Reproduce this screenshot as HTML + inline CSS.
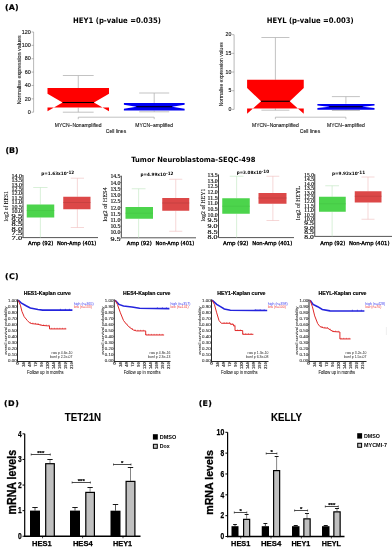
<!DOCTYPE html>
<html><head><meta charset="utf-8"><title>Figure</title>
<style>html,body{margin:0;padding:0;background:#fff;width:392px;height:550px;overflow:hidden}svg{display:block}</style>
</head><body>
<svg width="392" height="550" viewBox="0 0 392 550">
<text x="5.1" y="9.5" font-size="7.9" font-weight="bold" font-family="'DejaVu Sans', Verdana, sans-serif" text-anchor="start" fill="#000" stroke="#000" stroke-width="0.2" textLength="13.6" lengthAdjust="spacing">(A)</text>
<line x1="33.6" y1="32" x2="33.6" y2="112.2" stroke="#888" stroke-width="0.6"/>
<line x1="31.6" y1="112.2" x2="33.6" y2="112.2" stroke="#888" stroke-width="0.6"/>
<text x="30.8" y="113.9" font-size="5.4" font-family="'Liberation Sans', Arial, sans-serif" text-anchor="end" fill="#222" stroke="#222" stroke-width="0.15">0</text>
<line x1="31.6" y1="98.83" x2="33.6" y2="98.83" stroke="#888" stroke-width="0.6"/>
<text x="30.8" y="100.53" font-size="5.4" font-family="'Liberation Sans', Arial, sans-serif" text-anchor="end" fill="#222" stroke="#222" stroke-width="0.15">20</text>
<line x1="31.6" y1="85.46" x2="33.6" y2="85.46" stroke="#888" stroke-width="0.6"/>
<text x="30.8" y="87.16" font-size="5.4" font-family="'Liberation Sans', Arial, sans-serif" text-anchor="end" fill="#222" stroke="#222" stroke-width="0.15">40</text>
<line x1="31.6" y1="72.09" x2="33.6" y2="72.09" stroke="#888" stroke-width="0.6"/>
<text x="30.8" y="73.79" font-size="5.4" font-family="'Liberation Sans', Arial, sans-serif" text-anchor="end" fill="#222" stroke="#222" stroke-width="0.15">60</text>
<line x1="31.6" y1="58.72" x2="33.6" y2="58.72" stroke="#888" stroke-width="0.6"/>
<text x="30.8" y="60.42" font-size="5.4" font-family="'Liberation Sans', Arial, sans-serif" text-anchor="end" fill="#222" stroke="#222" stroke-width="0.15">80</text>
<line x1="31.6" y1="45.35" x2="33.6" y2="45.35" stroke="#888" stroke-width="0.6"/>
<text x="30.8" y="47.05" font-size="5.4" font-family="'Liberation Sans', Arial, sans-serif" text-anchor="end" fill="#222" stroke="#222" stroke-width="0.15">100</text>
<line x1="31.6" y1="31.98" x2="33.6" y2="31.98" stroke="#888" stroke-width="0.6"/>
<text x="30.8" y="33.68" font-size="5.4" font-family="'Liberation Sans', Arial, sans-serif" text-anchor="end" fill="#222" stroke="#222" stroke-width="0.15">120</text>
<text x="117" y="22.8" font-size="7.6" font-weight="bold" font-family="'DejaVu Sans', Verdana, sans-serif" text-anchor="middle" fill="#000" textLength="87.8" lengthAdjust="spacingAndGlyphs">HEY1 (p-value =0.035)</text>
<text x="21.2" y="69.8" font-size="5.4" font-family="'Liberation Sans', Arial, sans-serif" text-anchor="middle" fill="#222" transform="rotate(-90 21.2 69.8)" stroke="#222" stroke-width="0.1" textLength="69" lengthAdjust="spacingAndGlyphs">Normalise expression values</text>
<line x1="78.25" y1="75.5" x2="78.25" y2="88" stroke="#b4b4b4" stroke-width="0.8"/>
<line x1="78.25" y1="107.6" x2="78.25" y2="112.2" stroke="#b4b4b4" stroke-width="0.8"/>
<line x1="62.85" y1="75.5" x2="93.65" y2="75.5" stroke="#b4b4b4" stroke-width="0.8"/>
<line x1="62.85" y1="112.2" x2="93.65" y2="112.2" stroke="#b4b4b4" stroke-width="0.8"/>
<polygon points="47.5,107.6 47.5,111.3 62.55,102.5 47.5,93.8 47.5,88 109,88 109,93.8 93.95,102.5 109,111.3 109,107.6" fill="#ff0000" stroke="none" stroke-width="1"/>
<line x1="62.55" y1="102.5" x2="93.95" y2="102.5" stroke="#000" stroke-width="1.1"/>
<line x1="154.2" y1="93" x2="154.2" y2="103.2" stroke="#b4b4b4" stroke-width="0.8"/>
<line x1="154.2" y1="110.7" x2="154.2" y2="111.8" stroke="#b4b4b4" stroke-width="0.8"/>
<line x1="139.2" y1="93" x2="169.2" y2="93" stroke="#b4b4b4" stroke-width="0.8"/>
<line x1="139.2" y1="111.8" x2="169.2" y2="111.8" stroke="#b4b4b4" stroke-width="0.8"/>
<polygon points="123.9,110.6 123.9,108.7 136.4,106.8 123.9,104.8 123.9,103.1 184.6,103.1 184.6,104.8 172.1,106.8 184.6,108.7 184.6,110.6" fill="#0000f4" stroke="none" stroke-width="1"/>
<line x1="136.4" y1="106.8" x2="172.1" y2="106.8" stroke="#000" stroke-width="1.1"/>
<line x1="78.25" y1="117.2" x2="154.2" y2="117.2" stroke="#999" stroke-width="0.6"/>
<line x1="78.25" y1="117.2" x2="78.25" y2="119.2" stroke="#999" stroke-width="0.6"/>
<line x1="154.2" y1="117.2" x2="154.2" y2="119.2" stroke="#999" stroke-width="0.6"/>
<text x="78.25" y="127.2" font-size="5" font-family="'Liberation Sans', Arial, sans-serif" text-anchor="middle" fill="#111" stroke="#111" stroke-width="0.1">MYCN−Nonamplified</text>
<text x="154.2" y="127.2" font-size="5" font-family="'Liberation Sans', Arial, sans-serif" text-anchor="middle" fill="#111" stroke="#111" stroke-width="0.1">MYCN−amplified</text>
<text x="116" y="132.6" font-size="5" font-family="'Liberation Sans', Arial, sans-serif" text-anchor="middle" fill="#111" stroke="#111" stroke-width="0.1">Cell lines</text>
<line x1="234.1" y1="34.7" x2="234.1" y2="109.4" stroke="#888" stroke-width="0.6"/>
<line x1="232.1" y1="109.4" x2="234.1" y2="109.4" stroke="#888" stroke-width="0.6"/>
<text x="231.3" y="111.1" font-size="5.2" font-family="'Liberation Sans', Arial, sans-serif" text-anchor="end" fill="#222" stroke="#222" stroke-width="0.15">0</text>
<line x1="232.1" y1="90.72" x2="234.1" y2="90.72" stroke="#888" stroke-width="0.6"/>
<text x="231.3" y="92.42" font-size="5.2" font-family="'Liberation Sans', Arial, sans-serif" text-anchor="end" fill="#222" stroke="#222" stroke-width="0.15">5</text>
<line x1="232.1" y1="72.04" x2="234.1" y2="72.04" stroke="#888" stroke-width="0.6"/>
<text x="231.3" y="73.74" font-size="5.2" font-family="'Liberation Sans', Arial, sans-serif" text-anchor="end" fill="#222" stroke="#222" stroke-width="0.15">10</text>
<line x1="232.1" y1="53.36" x2="234.1" y2="53.36" stroke="#888" stroke-width="0.6"/>
<text x="231.3" y="55.06" font-size="5.2" font-family="'Liberation Sans', Arial, sans-serif" text-anchor="end" fill="#222" stroke="#222" stroke-width="0.15">15</text>
<line x1="232.1" y1="34.68" x2="234.1" y2="34.68" stroke="#888" stroke-width="0.6"/>
<text x="231.3" y="36.38" font-size="5.2" font-family="'Liberation Sans', Arial, sans-serif" text-anchor="end" fill="#222" stroke="#222" stroke-width="0.15">20</text>
<text x="310.2" y="22.8" font-size="7.6" font-weight="bold" font-family="'DejaVu Sans', Verdana, sans-serif" text-anchor="middle" fill="#000" textLength="86.8" lengthAdjust="spacingAndGlyphs">HEYL (p-value =0.003)</text>
<text x="223" y="74.3" font-size="5.1" font-family="'Liberation Sans', Arial, sans-serif" text-anchor="middle" fill="#222" transform="rotate(-90 223 74.3)" stroke="#222" stroke-width="0.1" textLength="64" lengthAdjust="spacingAndGlyphs">Normalise expression values</text>
<line x1="275.4" y1="37.5" x2="275.4" y2="79.8" stroke="#b4b4b4" stroke-width="0.8"/>
<line x1="275.4" y1="108.4" x2="275.4" y2="110.2" stroke="#b4b4b4" stroke-width="0.8"/>
<line x1="261.4" y1="37.5" x2="289.4" y2="37.5" stroke="#b4b4b4" stroke-width="0.8"/>
<line x1="261.4" y1="110.2" x2="289.4" y2="110.2" stroke="#b4b4b4" stroke-width="0.8"/>
<polygon points="247.1,108.4 247.1,113.75 261.07,101.25 247.1,87.9 247.1,79.8 303.75,79.8 303.75,87.9 289.78,101.25 303.75,113.75 303.75,108.4" fill="#ff0000" stroke="none" stroke-width="1"/>
<line x1="261.07" y1="101.25" x2="289.78" y2="101.25" stroke="#000" stroke-width="1.1"/>
<line x1="345.9" y1="96.6" x2="345.9" y2="103.75" stroke="#b4b4b4" stroke-width="0.8"/>
<line x1="345.9" y1="109.6" x2="345.9" y2="110.5" stroke="#b4b4b4" stroke-width="0.8"/>
<line x1="331.9" y1="96.6" x2="359.9" y2="96.6" stroke="#b4b4b4" stroke-width="0.8"/>
<line x1="331.9" y1="110.5" x2="359.9" y2="110.5" stroke="#b4b4b4" stroke-width="0.8"/>
<polygon points="317.4,109.8 317.4,108.1 329.35,106.8 317.4,105.4 317.4,103.9 374.5,103.9 374.5,105.4 362.55,106.8 374.5,108.1 374.5,109.8" fill="#0000f4" stroke="none" stroke-width="1"/>
<line x1="329.35" y1="106.8" x2="362.55" y2="106.8" stroke="#000" stroke-width="1.1"/>
<line x1="275.4" y1="117.2" x2="345.9" y2="117.2" stroke="#999" stroke-width="0.6"/>
<line x1="275.4" y1="117.2" x2="275.4" y2="119.2" stroke="#999" stroke-width="0.6"/>
<line x1="345.9" y1="117.2" x2="345.9" y2="119.2" stroke="#999" stroke-width="0.6"/>
<text x="275.4" y="127.2" font-size="5" font-family="'Liberation Sans', Arial, sans-serif" text-anchor="middle" fill="#111" stroke="#111" stroke-width="0.1">MYCN−Nonamplified</text>
<text x="345.9" y="127.2" font-size="5" font-family="'Liberation Sans', Arial, sans-serif" text-anchor="middle" fill="#111" stroke="#111" stroke-width="0.1">MYCN−amplified</text>
<text x="310" y="132.6" font-size="5" font-family="'Liberation Sans', Arial, sans-serif" text-anchor="middle" fill="#111" stroke="#111" stroke-width="0.1">Cell lines</text>
<text x="5.4" y="152.6" font-size="7.9" font-weight="bold" font-family="'DejaVu Sans', Verdana, sans-serif" text-anchor="start" fill="#000" stroke="#000" stroke-width="0.2" textLength="13.3" lengthAdjust="spacing">(B)</text>
<text x="131.2" y="162.1" font-size="7.1" font-weight="bold" font-family="'DejaVu Sans', Verdana, sans-serif" text-anchor="start" fill="#000" textLength="124.2" lengthAdjust="spacingAndGlyphs">Tumor Neuroblastoma-SEQC-498</text>
<text x="41.25" y="175" font-size="4.5" font-weight="bold" font-family="'DejaVu Sans', Verdana, sans-serif" text-anchor="start" fill="#000" textLength="33" lengthAdjust="spacingAndGlyphs">p=1.63x10<tspan font-size="4.5" dy="-1.3">-12</tspan></text>
<text x="22.1" y="177.8" font-size="6.4" font-family="'Liberation Serif', 'Times New Roman', serif" text-anchor="end" fill="#111" stroke="#111" stroke-width="0.18" textLength="10.5" lengthAdjust="spacingAndGlyphs">14.0</text>
<line x1="21.8" y1="175.6" x2="23" y2="175.6" stroke="#333" stroke-width="0.5"/>
<text x="22.1" y="182.22" font-size="6.4" font-family="'Liberation Serif', 'Times New Roman', serif" text-anchor="end" fill="#111" stroke="#111" stroke-width="0.18" textLength="10.5" lengthAdjust="spacingAndGlyphs">13.5</text>
<line x1="21.8" y1="180.02" x2="23" y2="180.02" stroke="#333" stroke-width="0.5"/>
<text x="22.1" y="186.64" font-size="6.4" font-family="'Liberation Serif', 'Times New Roman', serif" text-anchor="end" fill="#111" stroke="#111" stroke-width="0.18" textLength="10.5" lengthAdjust="spacingAndGlyphs">13.0</text>
<line x1="21.8" y1="184.44" x2="23" y2="184.44" stroke="#333" stroke-width="0.5"/>
<text x="22.1" y="191.06" font-size="6.4" font-family="'Liberation Serif', 'Times New Roman', serif" text-anchor="end" fill="#111" stroke="#111" stroke-width="0.18" textLength="10.5" lengthAdjust="spacingAndGlyphs">12.5</text>
<line x1="21.8" y1="188.86" x2="23" y2="188.86" stroke="#333" stroke-width="0.5"/>
<text x="22.1" y="195.49" font-size="6.4" font-family="'Liberation Serif', 'Times New Roman', serif" text-anchor="end" fill="#111" stroke="#111" stroke-width="0.18" textLength="10.5" lengthAdjust="spacingAndGlyphs">12.0</text>
<line x1="21.8" y1="193.29" x2="23" y2="193.29" stroke="#333" stroke-width="0.5"/>
<text x="22.1" y="199.91" font-size="6.4" font-family="'Liberation Serif', 'Times New Roman', serif" text-anchor="end" fill="#111" stroke="#111" stroke-width="0.18" textLength="10.5" lengthAdjust="spacingAndGlyphs">11.5</text>
<line x1="21.8" y1="197.71" x2="23" y2="197.71" stroke="#333" stroke-width="0.5"/>
<text x="22.1" y="204.33" font-size="6.4" font-family="'Liberation Serif', 'Times New Roman', serif" text-anchor="end" fill="#111" stroke="#111" stroke-width="0.18" textLength="10.5" lengthAdjust="spacingAndGlyphs">11.0</text>
<line x1="21.8" y1="202.13" x2="23" y2="202.13" stroke="#333" stroke-width="0.5"/>
<text x="22.1" y="208.75" font-size="6.4" font-family="'Liberation Serif', 'Times New Roman', serif" text-anchor="end" fill="#111" stroke="#111" stroke-width="0.18" textLength="10.5" lengthAdjust="spacingAndGlyphs">10.5</text>
<line x1="21.8" y1="206.55" x2="23" y2="206.55" stroke="#333" stroke-width="0.5"/>
<text x="22.1" y="213.17" font-size="6.4" font-family="'Liberation Serif', 'Times New Roman', serif" text-anchor="end" fill="#111" stroke="#111" stroke-width="0.18" textLength="10.5" lengthAdjust="spacingAndGlyphs">10.0</text>
<line x1="21.8" y1="210.97" x2="23" y2="210.97" stroke="#333" stroke-width="0.5"/>
<text x="22.1" y="217.59" font-size="6.4" font-family="'Liberation Serif', 'Times New Roman', serif" text-anchor="end" fill="#111" stroke="#111" stroke-width="0.18" textLength="10.5" lengthAdjust="spacingAndGlyphs">9.5</text>
<line x1="21.8" y1="215.39" x2="23" y2="215.39" stroke="#333" stroke-width="0.5"/>
<text x="22.1" y="222.01" font-size="6.4" font-family="'Liberation Serif', 'Times New Roman', serif" text-anchor="end" fill="#111" stroke="#111" stroke-width="0.18" textLength="10.5" lengthAdjust="spacingAndGlyphs">9.0</text>
<line x1="21.8" y1="219.81" x2="23" y2="219.81" stroke="#333" stroke-width="0.5"/>
<text x="22.1" y="226.44" font-size="6.4" font-family="'Liberation Serif', 'Times New Roman', serif" text-anchor="end" fill="#111" stroke="#111" stroke-width="0.18" textLength="10.5" lengthAdjust="spacingAndGlyphs">8.5</text>
<line x1="21.8" y1="224.24" x2="23" y2="224.24" stroke="#333" stroke-width="0.5"/>
<text x="22.1" y="230.86" font-size="6.4" font-family="'Liberation Serif', 'Times New Roman', serif" text-anchor="end" fill="#111" stroke="#111" stroke-width="0.18" textLength="10.5" lengthAdjust="spacingAndGlyphs">8.0</text>
<line x1="21.8" y1="228.66" x2="23" y2="228.66" stroke="#333" stroke-width="0.5"/>
<text x="22.1" y="235.28" font-size="6.4" font-family="'Liberation Serif', 'Times New Roman', serif" text-anchor="end" fill="#111" stroke="#111" stroke-width="0.18" textLength="10.5" lengthAdjust="spacingAndGlyphs">7.5</text>
<line x1="21.8" y1="233.08" x2="23" y2="233.08" stroke="#333" stroke-width="0.5"/>
<text x="22.1" y="239.7" font-size="6.4" font-family="'Liberation Serif', 'Times New Roman', serif" text-anchor="end" fill="#111" stroke="#111" stroke-width="0.18" textLength="10.5" lengthAdjust="spacingAndGlyphs">7.0</text>
<line x1="21.8" y1="237.5" x2="23" y2="237.5" stroke="#333" stroke-width="0.5"/>
<line x1="23" y1="175.1" x2="23" y2="237.6" stroke="#444" stroke-width="1"/>
<line x1="23" y1="237.6" x2="98" y2="237.6" stroke="#555" stroke-width="1"/>
<text x="8.2" y="206.3" font-size="6" font-family="'Liberation Serif', 'Times New Roman', serif" text-anchor="middle" fill="#111" transform="rotate(-90 8.2 206.3)" stroke="#111" stroke-width="0.1" textLength="30" lengthAdjust="spacingAndGlyphs">log2 of HES1</text>
<line x1="40.38" y1="187.5" x2="40.38" y2="204.5" stroke="#c0e6c0" stroke-width="0.6"/>
<line x1="40.38" y1="217.5" x2="40.38" y2="237.6" stroke="#c0e6c0" stroke-width="0.6"/>
<line x1="33.25" y1="187.5" x2="47.5" y2="187.5" stroke="#c0e6c0" stroke-width="0.6"/>
<rect x="26.75" y="204.5" width="27.5" height="13" fill="#4cd44c" stroke="none" stroke-width="1"/>
<line x1="26.75" y1="210.5" x2="54.25" y2="210.5" stroke="#44c444" stroke-width="0.6"/>
<line x1="77.38" y1="178.2" x2="77.38" y2="196.75" stroke="#f0bcbc" stroke-width="0.6"/>
<line x1="77.38" y1="209.25" x2="77.38" y2="227.5" stroke="#f0bcbc" stroke-width="0.6"/>
<line x1="70.75" y1="178.2" x2="84" y2="178.2" stroke="#f0bcbc" stroke-width="0.6"/>
<line x1="70.75" y1="227.5" x2="84" y2="227.5" stroke="#f0bcbc" stroke-width="0.6"/>
<rect x="63.25" y="196.75" width="27.25" height="12.5" fill="#dc4848" stroke="none" stroke-width="1"/>
<line x1="63.25" y1="202.5" x2="90.5" y2="202.5" stroke="#bb3c3c" stroke-width="0.6"/>
<text x="28" y="244.7" font-size="5.4" font-family="'DejaVu Sans', Verdana, sans-serif" text-anchor="start" fill="#000" stroke="#000" stroke-width="0.32" textLength="25.25" lengthAdjust="spacingAndGlyphs">Amp (92)</text>
<text x="57" y="244.7" font-size="5.4" font-family="'DejaVu Sans', Verdana, sans-serif" text-anchor="start" fill="#000" stroke="#000" stroke-width="0.32" textLength="39.25" lengthAdjust="spacingAndGlyphs">Non-Amp (401)</text>
<text x="140.5" y="176.3" font-size="4.5" font-weight="bold" font-family="'DejaVu Sans', Verdana, sans-serif" text-anchor="start" fill="#000" textLength="33" lengthAdjust="spacingAndGlyphs">p=4.99x10<tspan font-size="4.5" dy="-1.3">-12</tspan></text>
<text x="120.4" y="178.45" font-size="6.6" font-family="'Liberation Serif', 'Times New Roman', serif" text-anchor="end" fill="#111" stroke="#111" stroke-width="0.18" textLength="10" lengthAdjust="spacingAndGlyphs">14.5</text>
<line x1="120.1" y1="176.25" x2="121.3" y2="176.25" stroke="#333" stroke-width="0.5"/>
<text x="120.4" y="184.67" font-size="6.6" font-family="'Liberation Serif', 'Times New Roman', serif" text-anchor="end" fill="#111" stroke="#111" stroke-width="0.18" textLength="10" lengthAdjust="spacingAndGlyphs">14.0</text>
<line x1="120.1" y1="182.47" x2="121.3" y2="182.47" stroke="#333" stroke-width="0.5"/>
<text x="120.4" y="190.9" font-size="6.6" font-family="'Liberation Serif', 'Times New Roman', serif" text-anchor="end" fill="#111" stroke="#111" stroke-width="0.18" textLength="10" lengthAdjust="spacingAndGlyphs">13.5</text>
<line x1="120.1" y1="188.7" x2="121.3" y2="188.7" stroke="#333" stroke-width="0.5"/>
<text x="120.4" y="197.12" font-size="6.6" font-family="'Liberation Serif', 'Times New Roman', serif" text-anchor="end" fill="#111" stroke="#111" stroke-width="0.18" textLength="10" lengthAdjust="spacingAndGlyphs">13.0</text>
<line x1="120.1" y1="194.93" x2="121.3" y2="194.93" stroke="#333" stroke-width="0.5"/>
<text x="120.4" y="203.35" font-size="6.6" font-family="'Liberation Serif', 'Times New Roman', serif" text-anchor="end" fill="#111" stroke="#111" stroke-width="0.18" textLength="10" lengthAdjust="spacingAndGlyphs">12.5</text>
<line x1="120.1" y1="201.15" x2="121.3" y2="201.15" stroke="#333" stroke-width="0.5"/>
<text x="120.4" y="209.57" font-size="6.6" font-family="'Liberation Serif', 'Times New Roman', serif" text-anchor="end" fill="#111" stroke="#111" stroke-width="0.18" textLength="10" lengthAdjust="spacingAndGlyphs">12.0</text>
<line x1="120.1" y1="207.38" x2="121.3" y2="207.38" stroke="#333" stroke-width="0.5"/>
<text x="120.4" y="215.8" font-size="6.6" font-family="'Liberation Serif', 'Times New Roman', serif" text-anchor="end" fill="#111" stroke="#111" stroke-width="0.18" textLength="10" lengthAdjust="spacingAndGlyphs">11.5</text>
<line x1="120.1" y1="213.6" x2="121.3" y2="213.6" stroke="#333" stroke-width="0.5"/>
<text x="120.4" y="222.02" font-size="6.6" font-family="'Liberation Serif', 'Times New Roman', serif" text-anchor="end" fill="#111" stroke="#111" stroke-width="0.18" textLength="10" lengthAdjust="spacingAndGlyphs">11.0</text>
<line x1="120.1" y1="219.82" x2="121.3" y2="219.82" stroke="#333" stroke-width="0.5"/>
<text x="120.4" y="228.25" font-size="6.6" font-family="'Liberation Serif', 'Times New Roman', serif" text-anchor="end" fill="#111" stroke="#111" stroke-width="0.18" textLength="10" lengthAdjust="spacingAndGlyphs">10.5</text>
<line x1="120.1" y1="226.05" x2="121.3" y2="226.05" stroke="#333" stroke-width="0.5"/>
<text x="120.4" y="234.47" font-size="6.6" font-family="'Liberation Serif', 'Times New Roman', serif" text-anchor="end" fill="#111" stroke="#111" stroke-width="0.18" textLength="10" lengthAdjust="spacingAndGlyphs">10.0</text>
<line x1="120.1" y1="232.28" x2="121.3" y2="232.28" stroke="#333" stroke-width="0.5"/>
<text x="120.4" y="240.7" font-size="6.6" font-family="'Liberation Serif', 'Times New Roman', serif" text-anchor="end" fill="#111" stroke="#111" stroke-width="0.18" textLength="10" lengthAdjust="spacingAndGlyphs">9.5</text>
<line x1="120.1" y1="238.5" x2="121.3" y2="238.5" stroke="#333" stroke-width="0.5"/>
<line x1="121.3" y1="175.75" x2="121.3" y2="237.8" stroke="#444" stroke-width="1"/>
<line x1="121.3" y1="237.8" x2="196" y2="237.8" stroke="#555" stroke-width="1"/>
<text x="106.8" y="204.4" font-size="6" font-family="'Liberation Serif', 'Times New Roman', serif" text-anchor="middle" fill="#111" transform="rotate(-90 106.8 204.4)" stroke="#111" stroke-width="0.1" textLength="34" lengthAdjust="spacingAndGlyphs">log2 of HES4</text>
<line x1="138.62" y1="188.75" x2="138.62" y2="207" stroke="#c0e6c0" stroke-width="0.6"/>
<line x1="138.62" y1="218.75" x2="138.62" y2="237.8" stroke="#c0e6c0" stroke-width="0.6"/>
<line x1="131.75" y1="188.75" x2="145.5" y2="188.75" stroke="#c0e6c0" stroke-width="0.6"/>
<rect x="125.5" y="207" width="27.5" height="11.75" fill="#4cd44c" stroke="none" stroke-width="1"/>
<line x1="125.5" y1="213.25" x2="153" y2="213.25" stroke="#44c444" stroke-width="0.6"/>
<line x1="175.75" y1="179.25" x2="175.75" y2="198" stroke="#f0bcbc" stroke-width="0.6"/>
<line x1="175.75" y1="210.75" x2="175.75" y2="231.25" stroke="#f0bcbc" stroke-width="0.6"/>
<line x1="169.25" y1="179.25" x2="182.25" y2="179.25" stroke="#f0bcbc" stroke-width="0.6"/>
<line x1="169.25" y1="231.25" x2="182.25" y2="231.25" stroke="#f0bcbc" stroke-width="0.6"/>
<rect x="162.25" y="198" width="27" height="12.75" fill="#dc4848" stroke="none" stroke-width="1"/>
<line x1="162.25" y1="203" x2="189.25" y2="203" stroke="#bb3c3c" stroke-width="0.6"/>
<text x="126.75" y="244.7" font-size="5.4" font-family="'DejaVu Sans', Verdana, sans-serif" text-anchor="start" fill="#000" stroke="#000" stroke-width="0.32" textLength="25" lengthAdjust="spacingAndGlyphs">Amp (92)</text>
<text x="155.5" y="244.7" font-size="5.4" font-family="'DejaVu Sans', Verdana, sans-serif" text-anchor="start" fill="#000" stroke="#000" stroke-width="0.32" textLength="38.75" lengthAdjust="spacingAndGlyphs">Non-Amp (401)</text>
<text x="236.75" y="174.3" font-size="4.5" font-weight="bold" font-family="'DejaVu Sans', Verdana, sans-serif" text-anchor="start" fill="#000" textLength="32.25" lengthAdjust="spacingAndGlyphs">p=3.08x10<tspan font-size="4.5" dy="-1.3">-10</tspan></text>
<text x="217.6" y="177.2" font-size="6.4" font-family="'Liberation Serif', 'Times New Roman', serif" text-anchor="end" fill="#111" stroke="#111" stroke-width="0.18" textLength="10" lengthAdjust="spacingAndGlyphs">13.5</text>
<line x1="217.3" y1="175" x2="218.5" y2="175" stroke="#333" stroke-width="0.5"/>
<text x="217.6" y="182.84" font-size="6.4" font-family="'Liberation Serif', 'Times New Roman', serif" text-anchor="end" fill="#111" stroke="#111" stroke-width="0.18" textLength="10" lengthAdjust="spacingAndGlyphs">13.0</text>
<line x1="217.3" y1="180.64" x2="218.5" y2="180.64" stroke="#333" stroke-width="0.5"/>
<text x="217.6" y="188.47" font-size="6.4" font-family="'Liberation Serif', 'Times New Roman', serif" text-anchor="end" fill="#111" stroke="#111" stroke-width="0.18" textLength="10" lengthAdjust="spacingAndGlyphs">12.5</text>
<line x1="217.3" y1="186.27" x2="218.5" y2="186.27" stroke="#333" stroke-width="0.5"/>
<text x="217.6" y="194.11" font-size="6.4" font-family="'Liberation Serif', 'Times New Roman', serif" text-anchor="end" fill="#111" stroke="#111" stroke-width="0.18" textLength="10" lengthAdjust="spacingAndGlyphs">12.0</text>
<line x1="217.3" y1="191.91" x2="218.5" y2="191.91" stroke="#333" stroke-width="0.5"/>
<text x="217.6" y="199.75" font-size="6.4" font-family="'Liberation Serif', 'Times New Roman', serif" text-anchor="end" fill="#111" stroke="#111" stroke-width="0.18" textLength="10" lengthAdjust="spacingAndGlyphs">11.5</text>
<line x1="217.3" y1="197.55" x2="218.5" y2="197.55" stroke="#333" stroke-width="0.5"/>
<text x="217.6" y="205.38" font-size="6.4" font-family="'Liberation Serif', 'Times New Roman', serif" text-anchor="end" fill="#111" stroke="#111" stroke-width="0.18" textLength="10" lengthAdjust="spacingAndGlyphs">11.0</text>
<line x1="217.3" y1="203.18" x2="218.5" y2="203.18" stroke="#333" stroke-width="0.5"/>
<text x="217.6" y="211.02" font-size="6.4" font-family="'Liberation Serif', 'Times New Roman', serif" text-anchor="end" fill="#111" stroke="#111" stroke-width="0.18" textLength="10" lengthAdjust="spacingAndGlyphs">10.5</text>
<line x1="217.3" y1="208.82" x2="218.5" y2="208.82" stroke="#333" stroke-width="0.5"/>
<text x="217.6" y="216.65" font-size="6.4" font-family="'Liberation Serif', 'Times New Roman', serif" text-anchor="end" fill="#111" stroke="#111" stroke-width="0.18" textLength="10" lengthAdjust="spacingAndGlyphs">10.0</text>
<line x1="217.3" y1="214.45" x2="218.5" y2="214.45" stroke="#333" stroke-width="0.5"/>
<text x="217.6" y="222.29" font-size="6.4" font-family="'Liberation Serif', 'Times New Roman', serif" text-anchor="end" fill="#111" stroke="#111" stroke-width="0.18" textLength="10" lengthAdjust="spacingAndGlyphs">9.5</text>
<line x1="217.3" y1="220.09" x2="218.5" y2="220.09" stroke="#333" stroke-width="0.5"/>
<text x="217.6" y="227.93" font-size="6.4" font-family="'Liberation Serif', 'Times New Roman', serif" text-anchor="end" fill="#111" stroke="#111" stroke-width="0.18" textLength="10" lengthAdjust="spacingAndGlyphs">9.0</text>
<line x1="217.3" y1="225.73" x2="218.5" y2="225.73" stroke="#333" stroke-width="0.5"/>
<text x="217.6" y="233.56" font-size="6.4" font-family="'Liberation Serif', 'Times New Roman', serif" text-anchor="end" fill="#111" stroke="#111" stroke-width="0.18" textLength="10" lengthAdjust="spacingAndGlyphs">8.5</text>
<line x1="217.3" y1="231.36" x2="218.5" y2="231.36" stroke="#333" stroke-width="0.5"/>
<text x="217.6" y="239.2" font-size="6.4" font-family="'Liberation Serif', 'Times New Roman', serif" text-anchor="end" fill="#111" stroke="#111" stroke-width="0.18" textLength="10" lengthAdjust="spacingAndGlyphs">8.0</text>
<line x1="217.3" y1="237" x2="218.5" y2="237" stroke="#333" stroke-width="0.5"/>
<line x1="218.5" y1="174.5" x2="218.5" y2="237.6" stroke="#444" stroke-width="1"/>
<line x1="218.5" y1="237.6" x2="294" y2="237.6" stroke="#555" stroke-width="1"/>
<text x="204.8" y="205" font-size="6" font-family="'Liberation Serif', 'Times New Roman', serif" text-anchor="middle" fill="#111" transform="rotate(-90 204.8 205)" stroke="#111" stroke-width="0.1" textLength="32.5" lengthAdjust="spacingAndGlyphs">log2 of HEY1</text>
<line x1="236.62" y1="176.25" x2="236.62" y2="198.25" stroke="#c0e6c0" stroke-width="0.6"/>
<line x1="236.62" y1="213.75" x2="236.62" y2="237.6" stroke="#c0e6c0" stroke-width="0.6"/>
<line x1="229.75" y1="176.25" x2="243.5" y2="176.25" stroke="#c0e6c0" stroke-width="0.6"/>
<rect x="222.25" y="198.25" width="27.5" height="15.5" fill="#4cd44c" stroke="none" stroke-width="1"/>
<line x1="222.25" y1="206.25" x2="249.75" y2="206.25" stroke="#44c444" stroke-width="0.6"/>
<line x1="272.88" y1="176.25" x2="272.88" y2="193" stroke="#f0bcbc" stroke-width="0.6"/>
<line x1="272.88" y1="203.75" x2="272.88" y2="220.5" stroke="#f0bcbc" stroke-width="0.6"/>
<line x1="266.5" y1="176.25" x2="279.25" y2="176.25" stroke="#f0bcbc" stroke-width="0.6"/>
<line x1="266.5" y1="220.5" x2="279.25" y2="220.5" stroke="#f0bcbc" stroke-width="0.6"/>
<rect x="258.5" y="193" width="28" height="10.75" fill="#dc4848" stroke="none" stroke-width="1"/>
<line x1="258.5" y1="198" x2="286.5" y2="198" stroke="#bb3c3c" stroke-width="0.6"/>
<text x="223" y="244.7" font-size="5.4" font-family="'DejaVu Sans', Verdana, sans-serif" text-anchor="start" fill="#000" stroke="#000" stroke-width="0.32" textLength="25.5" lengthAdjust="spacingAndGlyphs">Amp (92)</text>
<text x="252.25" y="244.7" font-size="5.4" font-family="'DejaVu Sans', Verdana, sans-serif" text-anchor="start" fill="#000" stroke="#000" stroke-width="0.32" textLength="40" lengthAdjust="spacingAndGlyphs">Non-Amp (401)</text>
<text x="332" y="174.8" font-size="4.5" font-weight="bold" font-family="'DejaVu Sans', Verdana, sans-serif" text-anchor="start" fill="#000" textLength="33.25" lengthAdjust="spacingAndGlyphs">p=9.92x10<tspan font-size="4.5" dy="-1.3">-11</tspan></text>
<text x="313.85" y="177" font-size="6" font-family="'Liberation Serif', 'Times New Roman', serif" text-anchor="end" fill="#111" stroke="#111" stroke-width="0.18" textLength="9.5" lengthAdjust="spacingAndGlyphs">15.0</text>
<line x1="313.55" y1="174.8" x2="314.75" y2="174.8" stroke="#333" stroke-width="0.5"/>
<text x="313.85" y="181.4" font-size="6" font-family="'Liberation Serif', 'Times New Roman', serif" text-anchor="end" fill="#111" stroke="#111" stroke-width="0.18" textLength="9.5" lengthAdjust="spacingAndGlyphs">14.5</text>
<line x1="313.55" y1="179.2" x2="314.75" y2="179.2" stroke="#333" stroke-width="0.5"/>
<text x="313.85" y="185.8" font-size="6" font-family="'Liberation Serif', 'Times New Roman', serif" text-anchor="end" fill="#111" stroke="#111" stroke-width="0.18" textLength="9.5" lengthAdjust="spacingAndGlyphs">14.0</text>
<line x1="313.55" y1="183.6" x2="314.75" y2="183.6" stroke="#333" stroke-width="0.5"/>
<text x="313.85" y="190.2" font-size="6" font-family="'Liberation Serif', 'Times New Roman', serif" text-anchor="end" fill="#111" stroke="#111" stroke-width="0.18" textLength="9.5" lengthAdjust="spacingAndGlyphs">13.5</text>
<line x1="313.55" y1="188" x2="314.75" y2="188" stroke="#333" stroke-width="0.5"/>
<text x="313.85" y="194.6" font-size="6" font-family="'Liberation Serif', 'Times New Roman', serif" text-anchor="end" fill="#111" stroke="#111" stroke-width="0.18" textLength="9.5" lengthAdjust="spacingAndGlyphs">13.0</text>
<line x1="313.55" y1="192.4" x2="314.75" y2="192.4" stroke="#333" stroke-width="0.5"/>
<text x="313.85" y="199" font-size="6" font-family="'Liberation Serif', 'Times New Roman', serif" text-anchor="end" fill="#111" stroke="#111" stroke-width="0.18" textLength="9.5" lengthAdjust="spacingAndGlyphs">12.5</text>
<line x1="313.55" y1="196.8" x2="314.75" y2="196.8" stroke="#333" stroke-width="0.5"/>
<text x="313.85" y="203.4" font-size="6" font-family="'Liberation Serif', 'Times New Roman', serif" text-anchor="end" fill="#111" stroke="#111" stroke-width="0.18" textLength="9.5" lengthAdjust="spacingAndGlyphs">12.0</text>
<line x1="313.55" y1="201.2" x2="314.75" y2="201.2" stroke="#333" stroke-width="0.5"/>
<text x="313.85" y="207.8" font-size="6" font-family="'Liberation Serif', 'Times New Roman', serif" text-anchor="end" fill="#111" stroke="#111" stroke-width="0.18" textLength="9.5" lengthAdjust="spacingAndGlyphs">11.5</text>
<line x1="313.55" y1="205.6" x2="314.75" y2="205.6" stroke="#333" stroke-width="0.5"/>
<text x="313.85" y="212.2" font-size="6" font-family="'Liberation Serif', 'Times New Roman', serif" text-anchor="end" fill="#111" stroke="#111" stroke-width="0.18" textLength="9.5" lengthAdjust="spacingAndGlyphs">11.0</text>
<line x1="313.55" y1="210" x2="314.75" y2="210" stroke="#333" stroke-width="0.5"/>
<text x="313.85" y="216.6" font-size="6" font-family="'Liberation Serif', 'Times New Roman', serif" text-anchor="end" fill="#111" stroke="#111" stroke-width="0.18" textLength="9.5" lengthAdjust="spacingAndGlyphs">10.5</text>
<line x1="313.55" y1="214.4" x2="314.75" y2="214.4" stroke="#333" stroke-width="0.5"/>
<text x="313.85" y="221" font-size="6" font-family="'Liberation Serif', 'Times New Roman', serif" text-anchor="end" fill="#111" stroke="#111" stroke-width="0.18" textLength="9.5" lengthAdjust="spacingAndGlyphs">10.0</text>
<line x1="313.55" y1="218.8" x2="314.75" y2="218.8" stroke="#333" stroke-width="0.5"/>
<text x="313.85" y="225.4" font-size="6" font-family="'Liberation Serif', 'Times New Roman', serif" text-anchor="end" fill="#111" stroke="#111" stroke-width="0.18" textLength="9.5" lengthAdjust="spacingAndGlyphs">9.5</text>
<line x1="313.55" y1="223.2" x2="314.75" y2="223.2" stroke="#333" stroke-width="0.5"/>
<text x="313.85" y="229.8" font-size="6" font-family="'Liberation Serif', 'Times New Roman', serif" text-anchor="end" fill="#111" stroke="#111" stroke-width="0.18" textLength="9.5" lengthAdjust="spacingAndGlyphs">9.0</text>
<line x1="313.55" y1="227.6" x2="314.75" y2="227.6" stroke="#333" stroke-width="0.5"/>
<text x="313.85" y="234.2" font-size="6" font-family="'Liberation Serif', 'Times New Roman', serif" text-anchor="end" fill="#111" stroke="#111" stroke-width="0.18" textLength="9.5" lengthAdjust="spacingAndGlyphs">8.5</text>
<line x1="313.55" y1="232" x2="314.75" y2="232" stroke="#333" stroke-width="0.5"/>
<text x="313.85" y="238.6" font-size="6" font-family="'Liberation Serif', 'Times New Roman', serif" text-anchor="end" fill="#111" stroke="#111" stroke-width="0.18" textLength="9.5" lengthAdjust="spacingAndGlyphs">8.0</text>
<line x1="313.55" y1="236.4" x2="314.75" y2="236.4" stroke="#333" stroke-width="0.5"/>
<line x1="314.75" y1="174.3" x2="314.75" y2="236.4" stroke="#444" stroke-width="1"/>
<line x1="314.75" y1="236.4" x2="392" y2="236.4" stroke="#555" stroke-width="1"/>
<text x="299.8" y="203" font-size="6" font-family="'Liberation Serif', 'Times New Roman', serif" text-anchor="middle" fill="#111" transform="rotate(-90 299.8 203)" stroke="#111" stroke-width="0.1" textLength="33.75" lengthAdjust="spacingAndGlyphs">log2 of HEYL</text>
<line x1="332.12" y1="185.75" x2="332.12" y2="196.75" stroke="#c0e6c0" stroke-width="0.6"/>
<line x1="332.12" y1="211.75" x2="332.12" y2="236.4" stroke="#c0e6c0" stroke-width="0.6"/>
<line x1="325.25" y1="185.75" x2="339" y2="185.75" stroke="#c0e6c0" stroke-width="0.6"/>
<rect x="319" y="196.75" width="26.75" height="15" fill="#4cd44c" stroke="none" stroke-width="1"/>
<line x1="319" y1="203.75" x2="345.75" y2="203.75" stroke="#44c444" stroke-width="0.6"/>
<line x1="368" y1="177" x2="368" y2="191.25" stroke="#f0bcbc" stroke-width="0.6"/>
<line x1="368" y1="202.5" x2="368" y2="219.25" stroke="#f0bcbc" stroke-width="0.6"/>
<line x1="361.5" y1="177" x2="374.5" y2="177" stroke="#f0bcbc" stroke-width="0.6"/>
<line x1="361.5" y1="219.25" x2="374.5" y2="219.25" stroke="#f0bcbc" stroke-width="0.6"/>
<rect x="354.75" y="191.25" width="26.75" height="11.25" fill="#dc4848" stroke="none" stroke-width="1"/>
<line x1="354.75" y1="196.25" x2="381.5" y2="196.25" stroke="#bb3c3c" stroke-width="0.6"/>
<text x="320.25" y="244.7" font-size="5.4" font-family="'DejaVu Sans', Verdana, sans-serif" text-anchor="start" fill="#000" stroke="#000" stroke-width="0.32" textLength="25" lengthAdjust="spacingAndGlyphs">Amp (92)</text>
<text x="349" y="244.7" font-size="5.4" font-family="'DejaVu Sans', Verdana, sans-serif" text-anchor="start" fill="#000" stroke="#000" stroke-width="0.32" textLength="40.5" lengthAdjust="spacingAndGlyphs">Non-Amp (401)</text>
<text x="5.1" y="279" font-size="7.9" font-weight="bold" font-family="'DejaVu Sans', Verdana, sans-serif" text-anchor="start" fill="#000" stroke="#000" stroke-width="0.2" textLength="13.4" lengthAdjust="spacing">(C)</text>
<text x="23.8" y="294.5" font-size="5.7" font-weight="bold" font-family="'Liberation Sans', Arial, sans-serif" text-anchor="start" fill="#000" stroke="#000" stroke-width="0.18" textLength="47" lengthAdjust="spacingAndGlyphs">HES1-Kaplan curve</text>
<line x1="17.5" y1="299.4" x2="17.5" y2="361.5" stroke="#111" stroke-width="0.9"/>
<line x1="17.2" y1="361.5" x2="72.5" y2="361.5" stroke="#111" stroke-width="0.9"/>
<line x1="16.5" y1="360.9" x2="17.5" y2="360.9" stroke="#222" stroke-width="0.5"/>
<text x="16.6" y="362.2" font-size="3.7" font-family="'Liberation Sans', Arial, sans-serif" text-anchor="end" fill="#333" stroke="#333" stroke-width="0.08" textLength="8.6" lengthAdjust="spacingAndGlyphs">0.00</text>
<line x1="16.5" y1="354.83" x2="17.5" y2="354.83" stroke="#222" stroke-width="0.5"/>
<text x="16.6" y="356.13" font-size="3.7" font-family="'Liberation Sans', Arial, sans-serif" text-anchor="end" fill="#333" stroke="#333" stroke-width="0.08" textLength="8.6" lengthAdjust="spacingAndGlyphs">0.10</text>
<line x1="16.5" y1="348.76" x2="17.5" y2="348.76" stroke="#222" stroke-width="0.5"/>
<text x="16.6" y="350.06" font-size="3.7" font-family="'Liberation Sans', Arial, sans-serif" text-anchor="end" fill="#333" stroke="#333" stroke-width="0.08" textLength="8.6" lengthAdjust="spacingAndGlyphs">0.20</text>
<line x1="16.5" y1="342.69" x2="17.5" y2="342.69" stroke="#222" stroke-width="0.5"/>
<text x="16.6" y="343.99" font-size="3.7" font-family="'Liberation Sans', Arial, sans-serif" text-anchor="end" fill="#333" stroke="#333" stroke-width="0.08" textLength="8.6" lengthAdjust="spacingAndGlyphs">0.30</text>
<line x1="16.5" y1="336.62" x2="17.5" y2="336.62" stroke="#222" stroke-width="0.5"/>
<text x="16.6" y="337.92" font-size="3.7" font-family="'Liberation Sans', Arial, sans-serif" text-anchor="end" fill="#333" stroke="#333" stroke-width="0.08" textLength="8.6" lengthAdjust="spacingAndGlyphs">0.40</text>
<line x1="16.5" y1="330.55" x2="17.5" y2="330.55" stroke="#222" stroke-width="0.5"/>
<text x="16.6" y="331.85" font-size="3.7" font-family="'Liberation Sans', Arial, sans-serif" text-anchor="end" fill="#333" stroke="#333" stroke-width="0.08" textLength="8.6" lengthAdjust="spacingAndGlyphs">0.50</text>
<line x1="16.5" y1="324.48" x2="17.5" y2="324.48" stroke="#222" stroke-width="0.5"/>
<text x="16.6" y="325.78" font-size="3.7" font-family="'Liberation Sans', Arial, sans-serif" text-anchor="end" fill="#333" stroke="#333" stroke-width="0.08" textLength="8.6" lengthAdjust="spacingAndGlyphs">0.60</text>
<line x1="16.5" y1="318.41" x2="17.5" y2="318.41" stroke="#222" stroke-width="0.5"/>
<text x="16.6" y="319.71" font-size="3.7" font-family="'Liberation Sans', Arial, sans-serif" text-anchor="end" fill="#333" stroke="#333" stroke-width="0.08" textLength="8.6" lengthAdjust="spacingAndGlyphs">0.70</text>
<line x1="16.5" y1="312.34" x2="17.5" y2="312.34" stroke="#222" stroke-width="0.5"/>
<text x="16.6" y="313.64" font-size="3.7" font-family="'Liberation Sans', Arial, sans-serif" text-anchor="end" fill="#333" stroke="#333" stroke-width="0.08" textLength="8.6" lengthAdjust="spacingAndGlyphs">0.80</text>
<line x1="16.5" y1="306.27" x2="17.5" y2="306.27" stroke="#222" stroke-width="0.5"/>
<text x="16.6" y="307.57" font-size="3.7" font-family="'Liberation Sans', Arial, sans-serif" text-anchor="end" fill="#333" stroke="#333" stroke-width="0.08" textLength="8.6" lengthAdjust="spacingAndGlyphs">0.90</text>
<line x1="16.5" y1="300.2" x2="17.5" y2="300.2" stroke="#222" stroke-width="0.5"/>
<text x="16.6" y="301.5" font-size="3.7" font-family="'Liberation Sans', Arial, sans-serif" text-anchor="end" fill="#333" stroke="#333" stroke-width="0.08" textLength="8.6" lengthAdjust="spacingAndGlyphs">1.00</text>
<line x1="17.5" y1="361.5" x2="17.5" y2="362.7" stroke="#222" stroke-width="0.6"/>
<text x="18.9" y="362.3" font-size="4" font-family="'Liberation Sans', Arial, sans-serif" text-anchor="end" fill="#222" transform="rotate(-90 18.9 362.3)" stroke="#222" stroke-width="0.14">0</text>
<line x1="23.5" y1="361.5" x2="23.5" y2="362.7" stroke="#222" stroke-width="0.6"/>
<text x="24.9" y="362.3" font-size="4" font-family="'Liberation Sans', Arial, sans-serif" text-anchor="end" fill="#222" transform="rotate(-90 24.9 362.3)" stroke="#222" stroke-width="0.14">24</text>
<line x1="29.5" y1="361.5" x2="29.5" y2="362.7" stroke="#222" stroke-width="0.6"/>
<text x="30.9" y="362.3" font-size="4" font-family="'Liberation Sans', Arial, sans-serif" text-anchor="end" fill="#222" transform="rotate(-90 30.9 362.3)" stroke="#222" stroke-width="0.14">48</text>
<line x1="35.5" y1="361.5" x2="35.5" y2="362.7" stroke="#222" stroke-width="0.6"/>
<text x="36.9" y="362.3" font-size="4" font-family="'Liberation Sans', Arial, sans-serif" text-anchor="end" fill="#222" transform="rotate(-90 36.9 362.3)" stroke="#222" stroke-width="0.14">72</text>
<line x1="41.5" y1="361.5" x2="41.5" y2="362.7" stroke="#222" stroke-width="0.6"/>
<text x="42.9" y="362.3" font-size="4" font-family="'Liberation Sans', Arial, sans-serif" text-anchor="end" fill="#222" transform="rotate(-90 42.9 362.3)" stroke="#222" stroke-width="0.14">96</text>
<line x1="47.5" y1="361.5" x2="47.5" y2="362.7" stroke="#222" stroke-width="0.6"/>
<text x="48.9" y="362.3" font-size="4" font-family="'Liberation Sans', Arial, sans-serif" text-anchor="end" fill="#222" transform="rotate(-90 48.9 362.3)" stroke="#222" stroke-width="0.14">120</text>
<line x1="53.5" y1="361.5" x2="53.5" y2="362.7" stroke="#222" stroke-width="0.6"/>
<text x="54.9" y="362.3" font-size="4" font-family="'Liberation Sans', Arial, sans-serif" text-anchor="end" fill="#222" transform="rotate(-90 54.9 362.3)" stroke="#222" stroke-width="0.14">144</text>
<line x1="59.5" y1="361.5" x2="59.5" y2="362.7" stroke="#222" stroke-width="0.6"/>
<text x="60.9" y="362.3" font-size="4" font-family="'Liberation Sans', Arial, sans-serif" text-anchor="end" fill="#222" transform="rotate(-90 60.9 362.3)" stroke="#222" stroke-width="0.14">168</text>
<line x1="65.5" y1="361.5" x2="65.5" y2="362.7" stroke="#222" stroke-width="0.6"/>
<text x="66.9" y="362.3" font-size="4" font-family="'Liberation Sans', Arial, sans-serif" text-anchor="end" fill="#222" transform="rotate(-90 66.9 362.3)" stroke="#222" stroke-width="0.14">192</text>
<line x1="71.5" y1="361.5" x2="71.5" y2="362.7" stroke="#222" stroke-width="0.6"/>
<text x="72.9" y="362.3" font-size="4" font-family="'Liberation Sans', Arial, sans-serif" text-anchor="end" fill="#222" transform="rotate(-90 72.9 362.3)" stroke="#222" stroke-width="0.14">216</text>
<text x="45.3" y="374.3" font-size="4.9" font-family="'Liberation Sans', Arial, sans-serif" text-anchor="middle" fill="#222" stroke="#222" stroke-width="0.06" textLength="36.8" lengthAdjust="spacingAndGlyphs">Follow up in months</text>
<text x="6.8" y="330.8" font-size="3.9" font-family="'Liberation Sans', Arial, sans-serif" text-anchor="middle" fill="#333" transform="rotate(-90 6.8 330.8)" stroke="#333" stroke-width="0.06" textLength="48.5" lengthAdjust="spacingAndGlyphs">overall survival probability</text>
<text x="73.8" y="305.2" font-size="3.2" font-family="'Liberation Sans', Arial, sans-serif" text-anchor="start" fill="#3a3aee" textLength="19.8" lengthAdjust="spacingAndGlyphs">high (n=365)</text>
<text x="73.8" y="308.3" font-size="3.2" font-family="'Liberation Sans', Arial, sans-serif" text-anchor="start" fill="#ee3a3a" textLength="18" lengthAdjust="spacingAndGlyphs">low (n=133)</text>
<text x="72.5" y="354.2" font-size="3.1" font-family="'Liberation Sans', Arial, sans-serif" text-anchor="end" fill="#222" textLength="21" lengthAdjust="spacingAndGlyphs">raw p 4.6e-10</text>
<text x="72.5" y="357.7" font-size="3.1" font-family="'Liberation Sans', Arial, sans-serif" text-anchor="end" fill="#222" textLength="22.5" lengthAdjust="spacingAndGlyphs">bonf p 2.2e-07</text>
<path d="M18.1,300.2 L21.1,302.93 L26.5,306.03 L30.3,308.03 L38,309.49 L42.6,310.09 L72.4,310.09" fill="none" stroke="#2424dd" stroke-width="1.6"/>
<path d="M18.1,300.2 L20.4,305.18 L21.9,311.31 L24.2,316.71 L27.3,320.47 L29.5,322.78 L31.8,323.63 L38,324.3 L41.8,325.39 L47.9,325.88 L49.5,325.88 L49.5,328.91 L66.3,328.91" fill="none" stroke="#e02828" stroke-width="1"/>
<line x1="30.1" y1="321.9" x2="30.1" y2="323" stroke="#e02828" stroke-width="0.6"/>
<line x1="32.8" y1="322.64" x2="32.8" y2="323.74" stroke="#e02828" stroke-width="0.6"/>
<line x1="35.5" y1="322.93" x2="35.5" y2="324.03" stroke="#e02828" stroke-width="0.6"/>
<line x1="38.2" y1="323.26" x2="38.2" y2="324.36" stroke="#e02828" stroke-width="0.6"/>
<line x1="40.9" y1="324.03" x2="40.9" y2="325.13" stroke="#e02828" stroke-width="0.6"/>
<line x1="43.6" y1="324.43" x2="43.6" y2="325.53" stroke="#e02828" stroke-width="0.6"/>
<line x1="46.3" y1="324.65" x2="46.3" y2="325.75" stroke="#e02828" stroke-width="0.6"/>
<line x1="49" y1="324.78" x2="49" y2="325.88" stroke="#e02828" stroke-width="0.6"/>
<line x1="51.7" y1="327.81" x2="51.7" y2="328.91" stroke="#e02828" stroke-width="0.6"/>
<line x1="54.4" y1="327.81" x2="54.4" y2="328.91" stroke="#e02828" stroke-width="0.6"/>
<line x1="57.1" y1="327.81" x2="57.1" y2="328.91" stroke="#e02828" stroke-width="0.6"/>
<line x1="59.8" y1="327.81" x2="59.8" y2="328.91" stroke="#e02828" stroke-width="0.6"/>
<line x1="62.5" y1="327.81" x2="62.5" y2="328.91" stroke="#e02828" stroke-width="0.6"/>
<line x1="65.2" y1="327.81" x2="65.2" y2="328.91" stroke="#e02828" stroke-width="0.6"/>
<line x1="69.4" y1="308.79" x2="69.4" y2="310.29" stroke="#2424dd" stroke-width="0.6"/>
<line x1="65.4" y1="308.79" x2="65.4" y2="310.29" stroke="#2424dd" stroke-width="0.6"/>
<line x1="60.4" y1="308.79" x2="60.4" y2="310.29" stroke="#2424dd" stroke-width="0.6"/>
<text x="123" y="294.5" font-size="5.7" font-weight="bold" font-family="'Liberation Sans', Arial, sans-serif" text-anchor="start" fill="#000" stroke="#000" stroke-width="0.18" textLength="47.5" lengthAdjust="spacingAndGlyphs">HES4-Kaplan curve</text>
<line x1="114.3" y1="299.4" x2="114.3" y2="361.5" stroke="#111" stroke-width="0.9"/>
<line x1="114" y1="361.5" x2="170.5" y2="361.5" stroke="#111" stroke-width="0.9"/>
<line x1="113.3" y1="360.9" x2="114.3" y2="360.9" stroke="#222" stroke-width="0.5"/>
<text x="113.4" y="362.2" font-size="3.7" font-family="'Liberation Sans', Arial, sans-serif" text-anchor="end" fill="#333" stroke="#333" stroke-width="0.08" textLength="8.6" lengthAdjust="spacingAndGlyphs">0.00</text>
<line x1="113.3" y1="354.83" x2="114.3" y2="354.83" stroke="#222" stroke-width="0.5"/>
<text x="113.4" y="356.13" font-size="3.7" font-family="'Liberation Sans', Arial, sans-serif" text-anchor="end" fill="#333" stroke="#333" stroke-width="0.08" textLength="8.6" lengthAdjust="spacingAndGlyphs">0.10</text>
<line x1="113.3" y1="348.76" x2="114.3" y2="348.76" stroke="#222" stroke-width="0.5"/>
<text x="113.4" y="350.06" font-size="3.7" font-family="'Liberation Sans', Arial, sans-serif" text-anchor="end" fill="#333" stroke="#333" stroke-width="0.08" textLength="8.6" lengthAdjust="spacingAndGlyphs">0.20</text>
<line x1="113.3" y1="342.69" x2="114.3" y2="342.69" stroke="#222" stroke-width="0.5"/>
<text x="113.4" y="343.99" font-size="3.7" font-family="'Liberation Sans', Arial, sans-serif" text-anchor="end" fill="#333" stroke="#333" stroke-width="0.08" textLength="8.6" lengthAdjust="spacingAndGlyphs">0.30</text>
<line x1="113.3" y1="336.62" x2="114.3" y2="336.62" stroke="#222" stroke-width="0.5"/>
<text x="113.4" y="337.92" font-size="3.7" font-family="'Liberation Sans', Arial, sans-serif" text-anchor="end" fill="#333" stroke="#333" stroke-width="0.08" textLength="8.6" lengthAdjust="spacingAndGlyphs">0.40</text>
<line x1="113.3" y1="330.55" x2="114.3" y2="330.55" stroke="#222" stroke-width="0.5"/>
<text x="113.4" y="331.85" font-size="3.7" font-family="'Liberation Sans', Arial, sans-serif" text-anchor="end" fill="#333" stroke="#333" stroke-width="0.08" textLength="8.6" lengthAdjust="spacingAndGlyphs">0.50</text>
<line x1="113.3" y1="324.48" x2="114.3" y2="324.48" stroke="#222" stroke-width="0.5"/>
<text x="113.4" y="325.78" font-size="3.7" font-family="'Liberation Sans', Arial, sans-serif" text-anchor="end" fill="#333" stroke="#333" stroke-width="0.08" textLength="8.6" lengthAdjust="spacingAndGlyphs">0.60</text>
<line x1="113.3" y1="318.41" x2="114.3" y2="318.41" stroke="#222" stroke-width="0.5"/>
<text x="113.4" y="319.71" font-size="3.7" font-family="'Liberation Sans', Arial, sans-serif" text-anchor="end" fill="#333" stroke="#333" stroke-width="0.08" textLength="8.6" lengthAdjust="spacingAndGlyphs">0.70</text>
<line x1="113.3" y1="312.34" x2="114.3" y2="312.34" stroke="#222" stroke-width="0.5"/>
<text x="113.4" y="313.64" font-size="3.7" font-family="'Liberation Sans', Arial, sans-serif" text-anchor="end" fill="#333" stroke="#333" stroke-width="0.08" textLength="8.6" lengthAdjust="spacingAndGlyphs">0.80</text>
<line x1="113.3" y1="306.27" x2="114.3" y2="306.27" stroke="#222" stroke-width="0.5"/>
<text x="113.4" y="307.57" font-size="3.7" font-family="'Liberation Sans', Arial, sans-serif" text-anchor="end" fill="#333" stroke="#333" stroke-width="0.08" textLength="8.6" lengthAdjust="spacingAndGlyphs">0.90</text>
<line x1="113.3" y1="300.2" x2="114.3" y2="300.2" stroke="#222" stroke-width="0.5"/>
<text x="113.4" y="301.5" font-size="3.7" font-family="'Liberation Sans', Arial, sans-serif" text-anchor="end" fill="#333" stroke="#333" stroke-width="0.08" textLength="8.6" lengthAdjust="spacingAndGlyphs">1.00</text>
<line x1="114.3" y1="361.5" x2="114.3" y2="362.7" stroke="#222" stroke-width="0.6"/>
<text x="115.7" y="362.3" font-size="4" font-family="'Liberation Sans', Arial, sans-serif" text-anchor="end" fill="#222" transform="rotate(-90 115.7 362.3)" stroke="#222" stroke-width="0.14">0</text>
<line x1="120.3" y1="361.5" x2="120.3" y2="362.7" stroke="#222" stroke-width="0.6"/>
<text x="121.7" y="362.3" font-size="4" font-family="'Liberation Sans', Arial, sans-serif" text-anchor="end" fill="#222" transform="rotate(-90 121.7 362.3)" stroke="#222" stroke-width="0.14">24</text>
<line x1="126.3" y1="361.5" x2="126.3" y2="362.7" stroke="#222" stroke-width="0.6"/>
<text x="127.7" y="362.3" font-size="4" font-family="'Liberation Sans', Arial, sans-serif" text-anchor="end" fill="#222" transform="rotate(-90 127.7 362.3)" stroke="#222" stroke-width="0.14">48</text>
<line x1="132.3" y1="361.5" x2="132.3" y2="362.7" stroke="#222" stroke-width="0.6"/>
<text x="133.7" y="362.3" font-size="4" font-family="'Liberation Sans', Arial, sans-serif" text-anchor="end" fill="#222" transform="rotate(-90 133.7 362.3)" stroke="#222" stroke-width="0.14">72</text>
<line x1="138.3" y1="361.5" x2="138.3" y2="362.7" stroke="#222" stroke-width="0.6"/>
<text x="139.7" y="362.3" font-size="4" font-family="'Liberation Sans', Arial, sans-serif" text-anchor="end" fill="#222" transform="rotate(-90 139.7 362.3)" stroke="#222" stroke-width="0.14">96</text>
<line x1="144.3" y1="361.5" x2="144.3" y2="362.7" stroke="#222" stroke-width="0.6"/>
<text x="145.7" y="362.3" font-size="4" font-family="'Liberation Sans', Arial, sans-serif" text-anchor="end" fill="#222" transform="rotate(-90 145.7 362.3)" stroke="#222" stroke-width="0.14">120</text>
<line x1="150.3" y1="361.5" x2="150.3" y2="362.7" stroke="#222" stroke-width="0.6"/>
<text x="151.7" y="362.3" font-size="4" font-family="'Liberation Sans', Arial, sans-serif" text-anchor="end" fill="#222" transform="rotate(-90 151.7 362.3)" stroke="#222" stroke-width="0.14">144</text>
<line x1="156.3" y1="361.5" x2="156.3" y2="362.7" stroke="#222" stroke-width="0.6"/>
<text x="157.7" y="362.3" font-size="4" font-family="'Liberation Sans', Arial, sans-serif" text-anchor="end" fill="#222" transform="rotate(-90 157.7 362.3)" stroke="#222" stroke-width="0.14">168</text>
<line x1="162.3" y1="361.5" x2="162.3" y2="362.7" stroke="#222" stroke-width="0.6"/>
<text x="163.7" y="362.3" font-size="4" font-family="'Liberation Sans', Arial, sans-serif" text-anchor="end" fill="#222" transform="rotate(-90 163.7 362.3)" stroke="#222" stroke-width="0.14">192</text>
<line x1="168.3" y1="361.5" x2="168.3" y2="362.7" stroke="#222" stroke-width="0.6"/>
<text x="169.7" y="362.3" font-size="4" font-family="'Liberation Sans', Arial, sans-serif" text-anchor="end" fill="#222" transform="rotate(-90 169.7 362.3)" stroke="#222" stroke-width="0.14">216</text>
<text x="142.1" y="374.3" font-size="4.9" font-family="'Liberation Sans', Arial, sans-serif" text-anchor="middle" fill="#222" stroke="#222" stroke-width="0.06" textLength="36.8" lengthAdjust="spacingAndGlyphs">Follow up in months</text>
<text x="103.6" y="330.8" font-size="3.9" font-family="'Liberation Sans', Arial, sans-serif" text-anchor="middle" fill="#333" transform="rotate(-90 103.6 330.8)" stroke="#333" stroke-width="0.06" textLength="48.5" lengthAdjust="spacingAndGlyphs">overall survival probability</text>
<text x="170.6" y="305.2" font-size="3.2" font-family="'Liberation Sans', Arial, sans-serif" text-anchor="start" fill="#3a3aee" textLength="19.8" lengthAdjust="spacingAndGlyphs">high (n=357)</text>
<text x="170.6" y="308.3" font-size="3.2" font-family="'Liberation Sans', Arial, sans-serif" text-anchor="start" fill="#ee3a3a" textLength="18" lengthAdjust="spacingAndGlyphs">low (n=141)</text>
<text x="170.5" y="354.2" font-size="3.1" font-family="'Liberation Sans', Arial, sans-serif" text-anchor="end" fill="#222" textLength="21" lengthAdjust="spacingAndGlyphs">raw p 4.8e-16</text>
<text x="170.5" y="357.7" font-size="3.1" font-family="'Liberation Sans', Arial, sans-serif" text-anchor="end" fill="#222" textLength="22.5" lengthAdjust="spacingAndGlyphs">bonf p 2.3e-13</text>
<path d="M115.1,300.2 L118.9,304.39 L123.5,306.03 L131.9,307 L139.6,308.27 L169.4,308.58" fill="none" stroke="#2424dd" stroke-width="1.6"/>
<path d="M115.1,300.2 L117.4,304.39 L120.4,312.83 L123.5,320.47 L126.5,324.3 L129.6,327.39 L133.4,330 L136.5,330.91 L145.7,330.91 L145.7,334.98 L164.1,334.98" fill="none" stroke="#e02828" stroke-width="1"/>
<line x1="127.1" y1="323.8" x2="127.1" y2="324.9" stroke="#e02828" stroke-width="0.6"/>
<line x1="129.8" y1="326.43" x2="129.8" y2="327.53" stroke="#e02828" stroke-width="0.6"/>
<line x1="132.5" y1="328.29" x2="132.5" y2="329.39" stroke="#e02828" stroke-width="0.6"/>
<line x1="135.2" y1="329.43" x2="135.2" y2="330.53" stroke="#e02828" stroke-width="0.6"/>
<line x1="137.9" y1="329.81" x2="137.9" y2="330.91" stroke="#e02828" stroke-width="0.6"/>
<line x1="140.6" y1="329.81" x2="140.6" y2="330.91" stroke="#e02828" stroke-width="0.6"/>
<line x1="143.3" y1="329.81" x2="143.3" y2="330.91" stroke="#e02828" stroke-width="0.6"/>
<line x1="146" y1="333.88" x2="146" y2="334.98" stroke="#e02828" stroke-width="0.6"/>
<line x1="148.7" y1="333.88" x2="148.7" y2="334.98" stroke="#e02828" stroke-width="0.6"/>
<line x1="151.4" y1="333.88" x2="151.4" y2="334.98" stroke="#e02828" stroke-width="0.6"/>
<line x1="154.1" y1="333.88" x2="154.1" y2="334.98" stroke="#e02828" stroke-width="0.6"/>
<line x1="156.8" y1="333.88" x2="156.8" y2="334.98" stroke="#e02828" stroke-width="0.6"/>
<line x1="159.5" y1="333.88" x2="159.5" y2="334.98" stroke="#e02828" stroke-width="0.6"/>
<line x1="162.2" y1="333.88" x2="162.2" y2="334.98" stroke="#e02828" stroke-width="0.6"/>
<line x1="166.4" y1="307.28" x2="166.4" y2="308.78" stroke="#2424dd" stroke-width="0.6"/>
<line x1="162.4" y1="307.28" x2="162.4" y2="308.78" stroke="#2424dd" stroke-width="0.6"/>
<line x1="157.4" y1="307.28" x2="157.4" y2="308.78" stroke="#2424dd" stroke-width="0.6"/>
<text x="217.25" y="294.5" font-size="5.7" font-weight="bold" font-family="'Liberation Sans', Arial, sans-serif" text-anchor="start" fill="#000" stroke="#000" stroke-width="0.18" textLength="48.25" lengthAdjust="spacingAndGlyphs">HEY1-Kaplan curve</text>
<line x1="211.5" y1="299.4" x2="211.5" y2="361.5" stroke="#111" stroke-width="0.9"/>
<line x1="211.2" y1="361.5" x2="268.5" y2="361.5" stroke="#111" stroke-width="0.9"/>
<line x1="210.5" y1="360.9" x2="211.5" y2="360.9" stroke="#222" stroke-width="0.5"/>
<text x="210.6" y="362.2" font-size="3.7" font-family="'Liberation Sans', Arial, sans-serif" text-anchor="end" fill="#333" stroke="#333" stroke-width="0.08" textLength="8.6" lengthAdjust="spacingAndGlyphs">0.00</text>
<line x1="210.5" y1="354.83" x2="211.5" y2="354.83" stroke="#222" stroke-width="0.5"/>
<text x="210.6" y="356.13" font-size="3.7" font-family="'Liberation Sans', Arial, sans-serif" text-anchor="end" fill="#333" stroke="#333" stroke-width="0.08" textLength="8.6" lengthAdjust="spacingAndGlyphs">0.10</text>
<line x1="210.5" y1="348.76" x2="211.5" y2="348.76" stroke="#222" stroke-width="0.5"/>
<text x="210.6" y="350.06" font-size="3.7" font-family="'Liberation Sans', Arial, sans-serif" text-anchor="end" fill="#333" stroke="#333" stroke-width="0.08" textLength="8.6" lengthAdjust="spacingAndGlyphs">0.20</text>
<line x1="210.5" y1="342.69" x2="211.5" y2="342.69" stroke="#222" stroke-width="0.5"/>
<text x="210.6" y="343.99" font-size="3.7" font-family="'Liberation Sans', Arial, sans-serif" text-anchor="end" fill="#333" stroke="#333" stroke-width="0.08" textLength="8.6" lengthAdjust="spacingAndGlyphs">0.30</text>
<line x1="210.5" y1="336.62" x2="211.5" y2="336.62" stroke="#222" stroke-width="0.5"/>
<text x="210.6" y="337.92" font-size="3.7" font-family="'Liberation Sans', Arial, sans-serif" text-anchor="end" fill="#333" stroke="#333" stroke-width="0.08" textLength="8.6" lengthAdjust="spacingAndGlyphs">0.40</text>
<line x1="210.5" y1="330.55" x2="211.5" y2="330.55" stroke="#222" stroke-width="0.5"/>
<text x="210.6" y="331.85" font-size="3.7" font-family="'Liberation Sans', Arial, sans-serif" text-anchor="end" fill="#333" stroke="#333" stroke-width="0.08" textLength="8.6" lengthAdjust="spacingAndGlyphs">0.50</text>
<line x1="210.5" y1="324.48" x2="211.5" y2="324.48" stroke="#222" stroke-width="0.5"/>
<text x="210.6" y="325.78" font-size="3.7" font-family="'Liberation Sans', Arial, sans-serif" text-anchor="end" fill="#333" stroke="#333" stroke-width="0.08" textLength="8.6" lengthAdjust="spacingAndGlyphs">0.60</text>
<line x1="210.5" y1="318.41" x2="211.5" y2="318.41" stroke="#222" stroke-width="0.5"/>
<text x="210.6" y="319.71" font-size="3.7" font-family="'Liberation Sans', Arial, sans-serif" text-anchor="end" fill="#333" stroke="#333" stroke-width="0.08" textLength="8.6" lengthAdjust="spacingAndGlyphs">0.70</text>
<line x1="210.5" y1="312.34" x2="211.5" y2="312.34" stroke="#222" stroke-width="0.5"/>
<text x="210.6" y="313.64" font-size="3.7" font-family="'Liberation Sans', Arial, sans-serif" text-anchor="end" fill="#333" stroke="#333" stroke-width="0.08" textLength="8.6" lengthAdjust="spacingAndGlyphs">0.80</text>
<line x1="210.5" y1="306.27" x2="211.5" y2="306.27" stroke="#222" stroke-width="0.5"/>
<text x="210.6" y="307.57" font-size="3.7" font-family="'Liberation Sans', Arial, sans-serif" text-anchor="end" fill="#333" stroke="#333" stroke-width="0.08" textLength="8.6" lengthAdjust="spacingAndGlyphs">0.90</text>
<line x1="210.5" y1="300.2" x2="211.5" y2="300.2" stroke="#222" stroke-width="0.5"/>
<text x="210.6" y="301.5" font-size="3.7" font-family="'Liberation Sans', Arial, sans-serif" text-anchor="end" fill="#333" stroke="#333" stroke-width="0.08" textLength="8.6" lengthAdjust="spacingAndGlyphs">1.00</text>
<line x1="211.5" y1="361.5" x2="211.5" y2="362.7" stroke="#222" stroke-width="0.6"/>
<text x="212.9" y="362.3" font-size="4" font-family="'Liberation Sans', Arial, sans-serif" text-anchor="end" fill="#222" transform="rotate(-90 212.9 362.3)" stroke="#222" stroke-width="0.14">0</text>
<line x1="217.5" y1="361.5" x2="217.5" y2="362.7" stroke="#222" stroke-width="0.6"/>
<text x="218.9" y="362.3" font-size="4" font-family="'Liberation Sans', Arial, sans-serif" text-anchor="end" fill="#222" transform="rotate(-90 218.9 362.3)" stroke="#222" stroke-width="0.14">24</text>
<line x1="223.5" y1="361.5" x2="223.5" y2="362.7" stroke="#222" stroke-width="0.6"/>
<text x="224.9" y="362.3" font-size="4" font-family="'Liberation Sans', Arial, sans-serif" text-anchor="end" fill="#222" transform="rotate(-90 224.9 362.3)" stroke="#222" stroke-width="0.14">48</text>
<line x1="229.5" y1="361.5" x2="229.5" y2="362.7" stroke="#222" stroke-width="0.6"/>
<text x="230.9" y="362.3" font-size="4" font-family="'Liberation Sans', Arial, sans-serif" text-anchor="end" fill="#222" transform="rotate(-90 230.9 362.3)" stroke="#222" stroke-width="0.14">72</text>
<line x1="235.5" y1="361.5" x2="235.5" y2="362.7" stroke="#222" stroke-width="0.6"/>
<text x="236.9" y="362.3" font-size="4" font-family="'Liberation Sans', Arial, sans-serif" text-anchor="end" fill="#222" transform="rotate(-90 236.9 362.3)" stroke="#222" stroke-width="0.14">96</text>
<line x1="241.5" y1="361.5" x2="241.5" y2="362.7" stroke="#222" stroke-width="0.6"/>
<text x="242.9" y="362.3" font-size="4" font-family="'Liberation Sans', Arial, sans-serif" text-anchor="end" fill="#222" transform="rotate(-90 242.9 362.3)" stroke="#222" stroke-width="0.14">120</text>
<line x1="247.5" y1="361.5" x2="247.5" y2="362.7" stroke="#222" stroke-width="0.6"/>
<text x="248.9" y="362.3" font-size="4" font-family="'Liberation Sans', Arial, sans-serif" text-anchor="end" fill="#222" transform="rotate(-90 248.9 362.3)" stroke="#222" stroke-width="0.14">144</text>
<line x1="253.5" y1="361.5" x2="253.5" y2="362.7" stroke="#222" stroke-width="0.6"/>
<text x="254.9" y="362.3" font-size="4" font-family="'Liberation Sans', Arial, sans-serif" text-anchor="end" fill="#222" transform="rotate(-90 254.9 362.3)" stroke="#222" stroke-width="0.14">168</text>
<line x1="259.5" y1="361.5" x2="259.5" y2="362.7" stroke="#222" stroke-width="0.6"/>
<text x="260.9" y="362.3" font-size="4" font-family="'Liberation Sans', Arial, sans-serif" text-anchor="end" fill="#222" transform="rotate(-90 260.9 362.3)" stroke="#222" stroke-width="0.14">192</text>
<line x1="265.5" y1="361.5" x2="265.5" y2="362.7" stroke="#222" stroke-width="0.6"/>
<text x="266.9" y="362.3" font-size="4" font-family="'Liberation Sans', Arial, sans-serif" text-anchor="end" fill="#222" transform="rotate(-90 266.9 362.3)" stroke="#222" stroke-width="0.14">216</text>
<text x="239.3" y="374.3" font-size="4.9" font-family="'Liberation Sans', Arial, sans-serif" text-anchor="middle" fill="#222" stroke="#222" stroke-width="0.06" textLength="36.8" lengthAdjust="spacingAndGlyphs">Follow up in months</text>
<text x="200.8" y="330.8" font-size="3.9" font-family="'Liberation Sans', Arial, sans-serif" text-anchor="middle" fill="#333" transform="rotate(-90 200.8 330.8)" stroke="#333" stroke-width="0.06" textLength="48.5" lengthAdjust="spacingAndGlyphs">overall survival probability</text>
<text x="267.8" y="305.2" font-size="3.2" font-family="'Liberation Sans', Arial, sans-serif" text-anchor="start" fill="#3a3aee" textLength="19.8" lengthAdjust="spacingAndGlyphs">high (n=398)</text>
<text x="267.8" y="308.3" font-size="3.2" font-family="'Liberation Sans', Arial, sans-serif" text-anchor="start" fill="#ee3a3a" textLength="18" lengthAdjust="spacingAndGlyphs">low (n=100)</text>
<text x="268.5" y="354.2" font-size="3.1" font-family="'Liberation Sans', Arial, sans-serif" text-anchor="end" fill="#222" textLength="21" lengthAdjust="spacingAndGlyphs">raw p 1.3e-10</text>
<text x="268.5" y="357.7" font-size="3.1" font-family="'Liberation Sans', Arial, sans-serif" text-anchor="end" fill="#222" textLength="22.5" lengthAdjust="spacingAndGlyphs">bonf p 6.3e-08</text>
<path d="M212.1,300.2 L216.7,304.39 L220.5,306.69 L224.3,309 L230.4,310.22 L267.2,310.52" fill="none" stroke="#2424dd" stroke-width="1.6"/>
<path d="M212.1,300.2 L214.4,304.39 L216.7,312.83 L219,320.47 L221.3,323.27 L230.4,323.27 L230.4,324.3 L233.5,324.3 L233.5,325.88 L235,325.88 L235,330.55 L242.7,330.55 L242.7,334.31 L253.4,334.31" fill="none" stroke="#e02828" stroke-width="1"/>
<line x1="224.1" y1="322.17" x2="224.1" y2="323.27" stroke="#e02828" stroke-width="0.6"/>
<line x1="226.8" y1="322.17" x2="226.8" y2="323.27" stroke="#e02828" stroke-width="0.6"/>
<line x1="229.5" y1="322.17" x2="229.5" y2="323.27" stroke="#e02828" stroke-width="0.6"/>
<line x1="232.2" y1="323.2" x2="232.2" y2="324.3" stroke="#e02828" stroke-width="0.6"/>
<line x1="234.9" y1="324.78" x2="234.9" y2="325.88" stroke="#e02828" stroke-width="0.6"/>
<line x1="237.6" y1="329.45" x2="237.6" y2="330.55" stroke="#e02828" stroke-width="0.6"/>
<line x1="240.3" y1="329.45" x2="240.3" y2="330.55" stroke="#e02828" stroke-width="0.6"/>
<line x1="243" y1="333.21" x2="243" y2="334.31" stroke="#e02828" stroke-width="0.6"/>
<line x1="245.7" y1="333.21" x2="245.7" y2="334.31" stroke="#e02828" stroke-width="0.6"/>
<line x1="248.4" y1="333.21" x2="248.4" y2="334.31" stroke="#e02828" stroke-width="0.6"/>
<line x1="251.1" y1="333.21" x2="251.1" y2="334.31" stroke="#e02828" stroke-width="0.6"/>
<line x1="264.2" y1="309.22" x2="264.2" y2="310.72" stroke="#2424dd" stroke-width="0.6"/>
<line x1="260.2" y1="309.22" x2="260.2" y2="310.72" stroke="#2424dd" stroke-width="0.6"/>
<line x1="255.2" y1="309.22" x2="255.2" y2="310.72" stroke="#2424dd" stroke-width="0.6"/>
<text x="318.5" y="294.5" font-size="5.7" font-weight="bold" font-family="'Liberation Sans', Arial, sans-serif" text-anchor="start" fill="#000" stroke="#000" stroke-width="0.18" textLength="48" lengthAdjust="spacingAndGlyphs">HEYL-Kaplan curve</text>
<line x1="309" y1="299.4" x2="309" y2="361.5" stroke="#111" stroke-width="0.9"/>
<line x1="308.7" y1="361.5" x2="366.5" y2="361.5" stroke="#111" stroke-width="0.9"/>
<line x1="308" y1="360.9" x2="309" y2="360.9" stroke="#222" stroke-width="0.5"/>
<text x="308.1" y="362.2" font-size="3.7" font-family="'Liberation Sans', Arial, sans-serif" text-anchor="end" fill="#333" stroke="#333" stroke-width="0.08" textLength="8.6" lengthAdjust="spacingAndGlyphs">0.00</text>
<line x1="308" y1="354.83" x2="309" y2="354.83" stroke="#222" stroke-width="0.5"/>
<text x="308.1" y="356.13" font-size="3.7" font-family="'Liberation Sans', Arial, sans-serif" text-anchor="end" fill="#333" stroke="#333" stroke-width="0.08" textLength="8.6" lengthAdjust="spacingAndGlyphs">0.10</text>
<line x1="308" y1="348.76" x2="309" y2="348.76" stroke="#222" stroke-width="0.5"/>
<text x="308.1" y="350.06" font-size="3.7" font-family="'Liberation Sans', Arial, sans-serif" text-anchor="end" fill="#333" stroke="#333" stroke-width="0.08" textLength="8.6" lengthAdjust="spacingAndGlyphs">0.20</text>
<line x1="308" y1="342.69" x2="309" y2="342.69" stroke="#222" stroke-width="0.5"/>
<text x="308.1" y="343.99" font-size="3.7" font-family="'Liberation Sans', Arial, sans-serif" text-anchor="end" fill="#333" stroke="#333" stroke-width="0.08" textLength="8.6" lengthAdjust="spacingAndGlyphs">0.30</text>
<line x1="308" y1="336.62" x2="309" y2="336.62" stroke="#222" stroke-width="0.5"/>
<text x="308.1" y="337.92" font-size="3.7" font-family="'Liberation Sans', Arial, sans-serif" text-anchor="end" fill="#333" stroke="#333" stroke-width="0.08" textLength="8.6" lengthAdjust="spacingAndGlyphs">0.40</text>
<line x1="308" y1="330.55" x2="309" y2="330.55" stroke="#222" stroke-width="0.5"/>
<text x="308.1" y="331.85" font-size="3.7" font-family="'Liberation Sans', Arial, sans-serif" text-anchor="end" fill="#333" stroke="#333" stroke-width="0.08" textLength="8.6" lengthAdjust="spacingAndGlyphs">0.50</text>
<line x1="308" y1="324.48" x2="309" y2="324.48" stroke="#222" stroke-width="0.5"/>
<text x="308.1" y="325.78" font-size="3.7" font-family="'Liberation Sans', Arial, sans-serif" text-anchor="end" fill="#333" stroke="#333" stroke-width="0.08" textLength="8.6" lengthAdjust="spacingAndGlyphs">0.60</text>
<line x1="308" y1="318.41" x2="309" y2="318.41" stroke="#222" stroke-width="0.5"/>
<text x="308.1" y="319.71" font-size="3.7" font-family="'Liberation Sans', Arial, sans-serif" text-anchor="end" fill="#333" stroke="#333" stroke-width="0.08" textLength="8.6" lengthAdjust="spacingAndGlyphs">0.70</text>
<line x1="308" y1="312.34" x2="309" y2="312.34" stroke="#222" stroke-width="0.5"/>
<text x="308.1" y="313.64" font-size="3.7" font-family="'Liberation Sans', Arial, sans-serif" text-anchor="end" fill="#333" stroke="#333" stroke-width="0.08" textLength="8.6" lengthAdjust="spacingAndGlyphs">0.80</text>
<line x1="308" y1="306.27" x2="309" y2="306.27" stroke="#222" stroke-width="0.5"/>
<text x="308.1" y="307.57" font-size="3.7" font-family="'Liberation Sans', Arial, sans-serif" text-anchor="end" fill="#333" stroke="#333" stroke-width="0.08" textLength="8.6" lengthAdjust="spacingAndGlyphs">0.90</text>
<line x1="308" y1="300.2" x2="309" y2="300.2" stroke="#222" stroke-width="0.5"/>
<text x="308.1" y="301.5" font-size="3.7" font-family="'Liberation Sans', Arial, sans-serif" text-anchor="end" fill="#333" stroke="#333" stroke-width="0.08" textLength="8.6" lengthAdjust="spacingAndGlyphs">1.00</text>
<line x1="309" y1="361.5" x2="309" y2="362.7" stroke="#222" stroke-width="0.6"/>
<text x="310.4" y="362.3" font-size="4" font-family="'Liberation Sans', Arial, sans-serif" text-anchor="end" fill="#222" transform="rotate(-90 310.4 362.3)" stroke="#222" stroke-width="0.14">0</text>
<line x1="315" y1="361.5" x2="315" y2="362.7" stroke="#222" stroke-width="0.6"/>
<text x="316.4" y="362.3" font-size="4" font-family="'Liberation Sans', Arial, sans-serif" text-anchor="end" fill="#222" transform="rotate(-90 316.4 362.3)" stroke="#222" stroke-width="0.14">24</text>
<line x1="321" y1="361.5" x2="321" y2="362.7" stroke="#222" stroke-width="0.6"/>
<text x="322.4" y="362.3" font-size="4" font-family="'Liberation Sans', Arial, sans-serif" text-anchor="end" fill="#222" transform="rotate(-90 322.4 362.3)" stroke="#222" stroke-width="0.14">48</text>
<line x1="327" y1="361.5" x2="327" y2="362.7" stroke="#222" stroke-width="0.6"/>
<text x="328.4" y="362.3" font-size="4" font-family="'Liberation Sans', Arial, sans-serif" text-anchor="end" fill="#222" transform="rotate(-90 328.4 362.3)" stroke="#222" stroke-width="0.14">72</text>
<line x1="333" y1="361.5" x2="333" y2="362.7" stroke="#222" stroke-width="0.6"/>
<text x="334.4" y="362.3" font-size="4" font-family="'Liberation Sans', Arial, sans-serif" text-anchor="end" fill="#222" transform="rotate(-90 334.4 362.3)" stroke="#222" stroke-width="0.14">96</text>
<line x1="339" y1="361.5" x2="339" y2="362.7" stroke="#222" stroke-width="0.6"/>
<text x="340.4" y="362.3" font-size="4" font-family="'Liberation Sans', Arial, sans-serif" text-anchor="end" fill="#222" transform="rotate(-90 340.4 362.3)" stroke="#222" stroke-width="0.14">120</text>
<line x1="345" y1="361.5" x2="345" y2="362.7" stroke="#222" stroke-width="0.6"/>
<text x="346.4" y="362.3" font-size="4" font-family="'Liberation Sans', Arial, sans-serif" text-anchor="end" fill="#222" transform="rotate(-90 346.4 362.3)" stroke="#222" stroke-width="0.14">144</text>
<line x1="351" y1="361.5" x2="351" y2="362.7" stroke="#222" stroke-width="0.6"/>
<text x="352.4" y="362.3" font-size="4" font-family="'Liberation Sans', Arial, sans-serif" text-anchor="end" fill="#222" transform="rotate(-90 352.4 362.3)" stroke="#222" stroke-width="0.14">168</text>
<line x1="357" y1="361.5" x2="357" y2="362.7" stroke="#222" stroke-width="0.6"/>
<text x="358.4" y="362.3" font-size="4" font-family="'Liberation Sans', Arial, sans-serif" text-anchor="end" fill="#222" transform="rotate(-90 358.4 362.3)" stroke="#222" stroke-width="0.14">192</text>
<line x1="363" y1="361.5" x2="363" y2="362.7" stroke="#222" stroke-width="0.6"/>
<text x="364.4" y="362.3" font-size="4" font-family="'Liberation Sans', Arial, sans-serif" text-anchor="end" fill="#222" transform="rotate(-90 364.4 362.3)" stroke="#222" stroke-width="0.14">216</text>
<text x="336.8" y="374.3" font-size="4.9" font-family="'Liberation Sans', Arial, sans-serif" text-anchor="middle" fill="#222" stroke="#222" stroke-width="0.06" textLength="36.8" lengthAdjust="spacingAndGlyphs">Follow up in months</text>
<text x="298.3" y="330.8" font-size="3.9" font-family="'Liberation Sans', Arial, sans-serif" text-anchor="middle" fill="#333" transform="rotate(-90 298.3 330.8)" stroke="#333" stroke-width="0.06" textLength="48.5" lengthAdjust="spacingAndGlyphs">overall survival probability</text>
<text x="365.3" y="305.2" font-size="3.2" font-family="'Liberation Sans', Arial, sans-serif" text-anchor="start" fill="#3a3aee" textLength="19.8" lengthAdjust="spacingAndGlyphs">high (n=428)</text>
<text x="365.3" y="308.3" font-size="3.2" font-family="'Liberation Sans', Arial, sans-serif" text-anchor="start" fill="#ee3a3a" textLength="16" lengthAdjust="spacingAndGlyphs">low (n=70)</text>
<text x="366.5" y="354.2" font-size="3.1" font-family="'Liberation Sans', Arial, sans-serif" text-anchor="end" fill="#222" textLength="21" lengthAdjust="spacingAndGlyphs">raw p 3.2e-10</text>
<text x="366.5" y="357.7" font-size="3.1" font-family="'Liberation Sans', Arial, sans-serif" text-anchor="end" fill="#222" textLength="22.5" lengthAdjust="spacingAndGlyphs">bonf p 1.5e-07</text>
<path d="M310.1,300.2 L313.1,304.39 L317.7,306.69 L322.3,309.49 L330,310.88 L364.4,311" fill="none" stroke="#2424dd" stroke-width="1.6"/>
<path d="M310.1,300.2 L312.4,306.69 L314.7,315.92 L317.7,323.63 L320,326.6 L323.8,327.88 L327.7,328.18 L330,329.7 L333,331.52 L339.9,332.01 L339.9,338.93 L350.6,338.93" fill="none" stroke="#e02828" stroke-width="1"/>
<line x1="322.1" y1="326.21" x2="322.1" y2="327.31" stroke="#e02828" stroke-width="0.6"/>
<line x1="324.8" y1="326.86" x2="324.8" y2="327.96" stroke="#e02828" stroke-width="0.6"/>
<line x1="327.5" y1="327.07" x2="327.5" y2="328.17" stroke="#e02828" stroke-width="0.6"/>
<line x1="330.2" y1="328.72" x2="330.2" y2="329.82" stroke="#e02828" stroke-width="0.6"/>
<line x1="332.9" y1="330.36" x2="332.9" y2="331.46" stroke="#e02828" stroke-width="0.6"/>
<line x1="335.6" y1="330.6" x2="335.6" y2="331.7" stroke="#e02828" stroke-width="0.6"/>
<line x1="338.3" y1="330.79" x2="338.3" y2="331.89" stroke="#e02828" stroke-width="0.6"/>
<line x1="341" y1="337.83" x2="341" y2="338.93" stroke="#e02828" stroke-width="0.6"/>
<line x1="343.7" y1="337.83" x2="343.7" y2="338.93" stroke="#e02828" stroke-width="0.6"/>
<line x1="346.4" y1="337.83" x2="346.4" y2="338.93" stroke="#e02828" stroke-width="0.6"/>
<line x1="349.1" y1="337.83" x2="349.1" y2="338.93" stroke="#e02828" stroke-width="0.6"/>
<line x1="361.4" y1="309.7" x2="361.4" y2="311.2" stroke="#2424dd" stroke-width="0.6"/>
<line x1="357.4" y1="309.7" x2="357.4" y2="311.2" stroke="#2424dd" stroke-width="0.6"/>
<line x1="352.4" y1="309.7" x2="352.4" y2="311.2" stroke="#2424dd" stroke-width="0.6"/>
<line x1="386.4" y1="327" x2="386.4" y2="335" stroke="#e4e4e4" stroke-width="0.6"/>
<text x="4" y="405.6" font-size="7.9" font-weight="bold" font-family="'DejaVu Sans', Verdana, sans-serif" text-anchor="start" fill="#000" stroke="#000" stroke-width="0.2" textLength="14.8" lengthAdjust="spacing">(D)</text>
<text x="198.8" y="405.6" font-size="7.9" font-weight="bold" font-family="'DejaVu Sans', Verdana, sans-serif" text-anchor="start" fill="#000" stroke="#000" stroke-width="0.2" textLength="13" lengthAdjust="spacing">(E)</text>
<text x="64.8" y="421" font-size="10.4" font-weight="bold" font-family="'Liberation Sans', Arial, sans-serif" text-anchor="start" fill="#000" stroke="#000" stroke-width="0.12" textLength="36.3" lengthAdjust="spacingAndGlyphs">TET21N</text>
<text x="271" y="420.6" font-size="10.4" font-weight="bold" font-family="'Liberation Sans', Arial, sans-serif" text-anchor="start" fill="#000" stroke="#000" stroke-width="0.12" textLength="31" lengthAdjust="spacingAndGlyphs">KELLY</text>
<rect x="152.9" y="434.2" width="4.9" height="5.4" fill="#000" stroke="none" stroke-width="1"/>
<rect x="153.4" y="444.3" width="3.9" height="4" fill="#c0c0c0" stroke="#000" stroke-width="1"/>
<text x="159.7" y="438.8" font-size="5.4" font-weight="bold" font-family="'Liberation Sans', Arial, sans-serif" text-anchor="start" fill="#000" textLength="16.6" lengthAdjust="spacingAndGlyphs">DMSO</text>
<text x="159.7" y="448.4" font-size="5.4" font-weight="bold" font-family="'Liberation Sans', Arial, sans-serif" text-anchor="start" fill="#000" textLength="10" lengthAdjust="spacingAndGlyphs">Dox</text>
<rect x="357.2" y="433.2" width="4.9" height="5.4" fill="#000" stroke="none" stroke-width="1"/>
<rect x="357.7" y="443.3" width="3.9" height="4" fill="#c0c0c0" stroke="#000" stroke-width="1"/>
<text x="364" y="437.8" font-size="5.4" font-weight="bold" font-family="'Liberation Sans', Arial, sans-serif" text-anchor="start" fill="#000" textLength="16" lengthAdjust="spacingAndGlyphs">DMSO</text>
<text x="364" y="447.4" font-size="5.4" font-weight="bold" font-family="'Liberation Sans', Arial, sans-serif" text-anchor="start" fill="#000" textLength="23" lengthAdjust="spacingAndGlyphs">MYCMI-7</text>
<line x1="24.7" y1="433.85" x2="24.7" y2="536.95" stroke="#000" stroke-width="1.2"/>
<line x1="24.1" y1="536.25" x2="140.5" y2="536.25" stroke="#000" stroke-width="1.3"/>
<line x1="22.5" y1="536.25" x2="24.7" y2="536.25" stroke="#000" stroke-width="1"/>
<text x="21.7" y="538.95" font-size="8.2" font-weight="bold" font-family="'Liberation Sans', Arial, sans-serif" text-anchor="end" fill="#000" stroke="#000" stroke-width="0.25" textLength="3.7" lengthAdjust="spacingAndGlyphs">0</text>
<line x1="22.5" y1="510.65" x2="24.7" y2="510.65" stroke="#000" stroke-width="1"/>
<text x="21.7" y="513.35" font-size="8.2" font-weight="bold" font-family="'Liberation Sans', Arial, sans-serif" text-anchor="end" fill="#000" stroke="#000" stroke-width="0.25" textLength="3.7" lengthAdjust="spacingAndGlyphs">1</text>
<line x1="22.5" y1="485.05" x2="24.7" y2="485.05" stroke="#000" stroke-width="1"/>
<text x="21.7" y="487.75" font-size="8.2" font-weight="bold" font-family="'Liberation Sans', Arial, sans-serif" text-anchor="end" fill="#000" stroke="#000" stroke-width="0.25" textLength="3.7" lengthAdjust="spacingAndGlyphs">2</text>
<line x1="22.5" y1="459.45" x2="24.7" y2="459.45" stroke="#000" stroke-width="1"/>
<text x="21.7" y="462.15" font-size="8.2" font-weight="bold" font-family="'Liberation Sans', Arial, sans-serif" text-anchor="end" fill="#000" stroke="#000" stroke-width="0.25" textLength="3.7" lengthAdjust="spacingAndGlyphs">3</text>
<line x1="22.5" y1="433.85" x2="24.7" y2="433.85" stroke="#000" stroke-width="1"/>
<text x="21.7" y="436.55" font-size="8.2" font-weight="bold" font-family="'Liberation Sans', Arial, sans-serif" text-anchor="end" fill="#000" stroke="#000" stroke-width="0.25" textLength="3.7" lengthAdjust="spacingAndGlyphs">4</text>
<text x="15.8" y="482.2" font-size="12" font-weight="bold" font-family="'Liberation Sans', Arial, sans-serif" text-anchor="middle" fill="#000" transform="rotate(-90 15.8 482.2)" stroke="#000" stroke-width="0.3" textLength="64.5" lengthAdjust="spacingAndGlyphs">mRNA levels</text>
<line x1="35" y1="510.6" x2="35" y2="507.5" stroke="#444" stroke-width="0.9"/>
<line x1="32.3" y1="507.5" x2="37.7" y2="507.5" stroke="#000" stroke-width="0.9"/>
<rect x="30" y="510.6" width="10" height="25.65" fill="#000" stroke="none" stroke-width="1"/>
<line x1="50" y1="463.1" x2="50" y2="459.5" stroke="#777" stroke-width="0.9"/>
<line x1="47.35" y1="459.5" x2="52.65" y2="459.5" stroke="#000" stroke-width="0.9"/>
<rect x="45.7" y="463.7" width="8.6" height="72.55" fill="#c0c0c0" stroke="#000" stroke-width="1.2"/>
<line x1="31.2" y1="454.5" x2="50.3" y2="454.5" stroke="#000" stroke-width="0.7"/>
<line x1="31.2" y1="453.5" x2="31.2" y2="455.5" stroke="#000" stroke-width="0.6"/>
<line x1="50.3" y1="453.5" x2="50.3" y2="455.5" stroke="#000" stroke-width="0.6"/>
<text x="40.75" y="454.7" font-size="6" font-weight="bold" font-family="'Liberation Sans', Arial, sans-serif" text-anchor="middle" fill="#000" stroke="#000" stroke-width="0.2">***</text>
<text x="32.1" y="545.9" font-size="7.4" font-weight="bold" font-family="'Liberation Sans', Arial, sans-serif" text-anchor="start" fill="#000" stroke="#000" stroke-width="0.25" textLength="19.7" lengthAdjust="spacingAndGlyphs">HES1</text>
<line x1="42.55" y1="536.25" x2="42.55" y2="538.25" stroke="#000" stroke-width="0.7"/>
<line x1="75" y1="510.6" x2="75" y2="507.5" stroke="#444" stroke-width="0.9"/>
<line x1="72.3" y1="507.5" x2="77.7" y2="507.5" stroke="#000" stroke-width="0.9"/>
<rect x="70" y="510.6" width="10" height="25.65" fill="#000" stroke="none" stroke-width="1"/>
<line x1="90.1" y1="491.8" x2="90.1" y2="487.5" stroke="#777" stroke-width="0.9"/>
<line x1="87.45" y1="487.5" x2="92.75" y2="487.5" stroke="#000" stroke-width="0.9"/>
<rect x="85.8" y="492.4" width="8.6" height="43.85" fill="#c0c0c0" stroke="#000" stroke-width="1.2"/>
<line x1="72.1" y1="482.5" x2="90.4" y2="482.5" stroke="#000" stroke-width="0.7"/>
<line x1="72.1" y1="481.5" x2="72.1" y2="483.5" stroke="#000" stroke-width="0.6"/>
<line x1="90.4" y1="481.5" x2="90.4" y2="483.5" stroke="#000" stroke-width="0.6"/>
<text x="81.25" y="482.7" font-size="6" font-weight="bold" font-family="'Liberation Sans', Arial, sans-serif" text-anchor="middle" fill="#000" stroke="#000" stroke-width="0.2">***</text>
<text x="72.9" y="545.9" font-size="7.4" font-weight="bold" font-family="'Liberation Sans', Arial, sans-serif" text-anchor="start" fill="#000" stroke="#000" stroke-width="0.25" textLength="19.8" lengthAdjust="spacingAndGlyphs">HES4</text>
<line x1="82.6" y1="536.25" x2="82.6" y2="538.25" stroke="#000" stroke-width="0.7"/>
<line x1="115.5" y1="510.7" x2="115.5" y2="504.5" stroke="#444" stroke-width="0.9"/>
<line x1="112.8" y1="504.5" x2="118.2" y2="504.5" stroke="#000" stroke-width="0.9"/>
<rect x="110.5" y="510.7" width="10" height="25.55" fill="#000" stroke="none" stroke-width="1"/>
<line x1="130.5" y1="480.8" x2="130.5" y2="467.5" stroke="#777" stroke-width="0.9"/>
<line x1="127.8" y1="467.5" x2="133.2" y2="467.5" stroke="#000" stroke-width="0.9"/>
<rect x="126.1" y="481.4" width="8.8" height="54.85" fill="#c0c0c0" stroke="#000" stroke-width="1.2"/>
<line x1="113.5" y1="464.5" x2="131" y2="464.5" stroke="#000" stroke-width="0.7"/>
<line x1="113.5" y1="463.5" x2="113.5" y2="465.5" stroke="#000" stroke-width="0.6"/>
<line x1="131" y1="463.5" x2="131" y2="465.5" stroke="#000" stroke-width="0.6"/>
<text x="122.25" y="464.7" font-size="6" font-weight="bold" font-family="'Liberation Sans', Arial, sans-serif" text-anchor="middle" fill="#000" stroke="#000" stroke-width="0.2">*</text>
<text x="113" y="545.9" font-size="7.4" font-weight="bold" font-family="'Liberation Sans', Arial, sans-serif" text-anchor="start" fill="#000" stroke="#000" stroke-width="0.25" textLength="19.1" lengthAdjust="spacingAndGlyphs">HEY1</text>
<line x1="123" y1="536.25" x2="123" y2="538.25" stroke="#000" stroke-width="0.7"/>
<line x1="227.6" y1="432.3" x2="227.6" y2="537.2" stroke="#000" stroke-width="1.2"/>
<line x1="227" y1="536.5" x2="344.5" y2="536.5" stroke="#000" stroke-width="1.3"/>
<line x1="225.4" y1="536.5" x2="227.6" y2="536.5" stroke="#000" stroke-width="1"/>
<text x="224.3" y="539.2" font-size="8.2" font-weight="bold" font-family="'Liberation Sans', Arial, sans-serif" text-anchor="end" fill="#000" stroke="#000" stroke-width="0.25" textLength="3.7" lengthAdjust="spacingAndGlyphs">0</text>
<line x1="225.4" y1="515.66" x2="227.6" y2="515.66" stroke="#000" stroke-width="1"/>
<text x="224.3" y="518.36" font-size="8.2" font-weight="bold" font-family="'Liberation Sans', Arial, sans-serif" text-anchor="end" fill="#000" stroke="#000" stroke-width="0.25" textLength="3.7" lengthAdjust="spacingAndGlyphs">2</text>
<line x1="225.4" y1="494.82" x2="227.6" y2="494.82" stroke="#000" stroke-width="1"/>
<text x="224.3" y="497.52" font-size="8.2" font-weight="bold" font-family="'Liberation Sans', Arial, sans-serif" text-anchor="end" fill="#000" stroke="#000" stroke-width="0.25" textLength="3.7" lengthAdjust="spacingAndGlyphs">4</text>
<line x1="225.4" y1="473.98" x2="227.6" y2="473.98" stroke="#000" stroke-width="1"/>
<text x="224.3" y="476.68" font-size="8.2" font-weight="bold" font-family="'Liberation Sans', Arial, sans-serif" text-anchor="end" fill="#000" stroke="#000" stroke-width="0.25" textLength="3.7" lengthAdjust="spacingAndGlyphs">6</text>
<line x1="225.4" y1="453.14" x2="227.6" y2="453.14" stroke="#000" stroke-width="1"/>
<text x="224.3" y="455.84" font-size="8.2" font-weight="bold" font-family="'Liberation Sans', Arial, sans-serif" text-anchor="end" fill="#000" stroke="#000" stroke-width="0.25" textLength="3.7" lengthAdjust="spacingAndGlyphs">8</text>
<line x1="225.4" y1="432.3" x2="227.6" y2="432.3" stroke="#000" stroke-width="1"/>
<text x="224.3" y="435" font-size="8.2" font-weight="bold" font-family="'Liberation Sans', Arial, sans-serif" text-anchor="end" fill="#000" stroke="#000" stroke-width="0.25" textLength="7.7" lengthAdjust="spacingAndGlyphs">10</text>
<text x="212.9" y="482.5" font-size="10.6" font-weight="bold" font-family="'Liberation Sans', Arial, sans-serif" text-anchor="middle" fill="#000" transform="rotate(-90 212.9 482.5)" stroke="#000" stroke-width="0.3" textLength="64.6" lengthAdjust="spacingAndGlyphs">mRNA levels</text>
<line x1="235" y1="526.2" x2="235" y2="524.5" stroke="#444" stroke-width="0.9"/>
<line x1="233.11" y1="524.5" x2="236.89" y2="524.5" stroke="#000" stroke-width="0.9"/>
<rect x="231.5" y="526.2" width="7" height="10.3" fill="#000" stroke="none" stroke-width="1"/>
<line x1="246.62" y1="518.75" x2="246.62" y2="514.5" stroke="#777" stroke-width="0.9"/>
<line x1="244.67" y1="514.5" x2="248.58" y2="514.5" stroke="#000" stroke-width="0.9"/>
<rect x="243.6" y="519.35" width="6.05" height="17.15" fill="#c0c0c0" stroke="#000" stroke-width="1.2"/>
<line x1="234.3" y1="512.5" x2="246.8" y2="512.5" stroke="#000" stroke-width="0.7"/>
<line x1="234.3" y1="511.5" x2="234.3" y2="513.5" stroke="#000" stroke-width="0.6"/>
<line x1="246.8" y1="511.5" x2="246.8" y2="513.5" stroke="#000" stroke-width="0.6"/>
<text x="240.55" y="512.7" font-size="6" font-weight="bold" font-family="'Liberation Sans', Arial, sans-serif" text-anchor="middle" fill="#000" stroke="#000" stroke-width="0.2">*</text>
<text x="231.1" y="545.9" font-size="7.4" font-weight="bold" font-family="'Liberation Sans', Arial, sans-serif" text-anchor="start" fill="#000" stroke="#000" stroke-width="0.25" textLength="19.2" lengthAdjust="spacingAndGlyphs">HES1</text>
<line x1="240.75" y1="536.5" x2="240.75" y2="538.5" stroke="#000" stroke-width="0.7"/>
<line x1="265.38" y1="526.2" x2="265.38" y2="523.5" stroke="#444" stroke-width="0.9"/>
<line x1="263.42" y1="523.5" x2="267.33" y2="523.5" stroke="#000" stroke-width="0.9"/>
<rect x="261.75" y="526.2" width="7.25" height="10.3" fill="#000" stroke="none" stroke-width="1"/>
<line x1="276.62" y1="470" x2="276.62" y2="456.5" stroke="#777" stroke-width="0.9"/>
<line x1="274.67" y1="456.5" x2="278.58" y2="456.5" stroke="#000" stroke-width="0.9"/>
<rect x="273.6" y="470.6" width="6.05" height="65.9" fill="#c0c0c0" stroke="#000" stroke-width="1.2"/>
<line x1="266.2" y1="453.5" x2="276.9" y2="453.5" stroke="#000" stroke-width="0.7"/>
<line x1="266.2" y1="452.5" x2="266.2" y2="454.5" stroke="#000" stroke-width="0.6"/>
<line x1="276.9" y1="452.5" x2="276.9" y2="454.5" stroke="#000" stroke-width="0.6"/>
<text x="271.55" y="453.7" font-size="6" font-weight="bold" font-family="'Liberation Sans', Arial, sans-serif" text-anchor="middle" fill="#000" stroke="#000" stroke-width="0.2">*</text>
<text x="261" y="545.9" font-size="7.4" font-weight="bold" font-family="'Liberation Sans', Arial, sans-serif" text-anchor="start" fill="#000" stroke="#000" stroke-width="0.25" textLength="20.3" lengthAdjust="spacingAndGlyphs">HES4</text>
<line x1="271" y1="536.5" x2="271" y2="538.5" stroke="#000" stroke-width="0.7"/>
<line x1="295.75" y1="526.2" x2="295.75" y2="525.5" stroke="#444" stroke-width="0.9"/>
<line x1="293.73" y1="525.5" x2="297.77" y2="525.5" stroke="#000" stroke-width="0.9"/>
<rect x="292" y="526.2" width="7.5" height="10.3" fill="#000" stroke="none" stroke-width="1"/>
<line x1="307" y1="518.25" x2="307" y2="513.5" stroke="#777" stroke-width="0.9"/>
<line x1="304.98" y1="513.5" x2="309.02" y2="513.5" stroke="#000" stroke-width="0.9"/>
<rect x="303.85" y="518.85" width="6.3" height="17.65" fill="#c0c0c0" stroke="#000" stroke-width="1.2"/>
<line x1="294.6" y1="510.5" x2="307.6" y2="510.5" stroke="#000" stroke-width="0.7"/>
<line x1="294.6" y1="509.5" x2="294.6" y2="511.5" stroke="#000" stroke-width="0.6"/>
<line x1="307.6" y1="509.5" x2="307.6" y2="511.5" stroke="#000" stroke-width="0.6"/>
<text x="301.1" y="510.7" font-size="6" font-weight="bold" font-family="'Liberation Sans', Arial, sans-serif" text-anchor="middle" fill="#000" stroke="#000" stroke-width="0.2">*</text>
<text x="291.4" y="545.9" font-size="7.4" font-weight="bold" font-family="'Liberation Sans', Arial, sans-serif" text-anchor="start" fill="#000" stroke="#000" stroke-width="0.25" textLength="18.9" lengthAdjust="spacingAndGlyphs">HEY1</text>
<line x1="301.38" y1="536.5" x2="301.38" y2="538.5" stroke="#000" stroke-width="0.7"/>
<line x1="325.75" y1="526.2" x2="325.75" y2="525.5" stroke="#444" stroke-width="0.9"/>
<line x1="323.73" y1="525.5" x2="327.77" y2="525.5" stroke="#000" stroke-width="0.9"/>
<rect x="322" y="526.2" width="7.5" height="10.3" fill="#000" stroke="none" stroke-width="1"/>
<line x1="337" y1="511.25" x2="337" y2="508.5" stroke="#777" stroke-width="0.9"/>
<line x1="334.98" y1="508.5" x2="339.02" y2="508.5" stroke="#000" stroke-width="0.9"/>
<rect x="333.85" y="511.85" width="6.3" height="24.65" fill="#c0c0c0" stroke="#000" stroke-width="1.2"/>
<line x1="325.3" y1="506.5" x2="338.3" y2="506.5" stroke="#000" stroke-width="0.7"/>
<line x1="325.3" y1="505.5" x2="325.3" y2="507.5" stroke="#000" stroke-width="0.6"/>
<line x1="338.3" y1="505.5" x2="338.3" y2="507.5" stroke="#000" stroke-width="0.6"/>
<text x="331.8" y="506.7" font-size="6" font-weight="bold" font-family="'Liberation Sans', Arial, sans-serif" text-anchor="middle" fill="#000" stroke="#000" stroke-width="0.2">***</text>
<text x="321.8" y="545.9" font-size="7.4" font-weight="bold" font-family="'Liberation Sans', Arial, sans-serif" text-anchor="start" fill="#000" stroke="#000" stroke-width="0.25" textLength="19.1" lengthAdjust="spacingAndGlyphs">HEYL</text>
<line x1="331.38" y1="536.5" x2="331.38" y2="538.5" stroke="#000" stroke-width="0.7"/>
</svg>
</body></html>
